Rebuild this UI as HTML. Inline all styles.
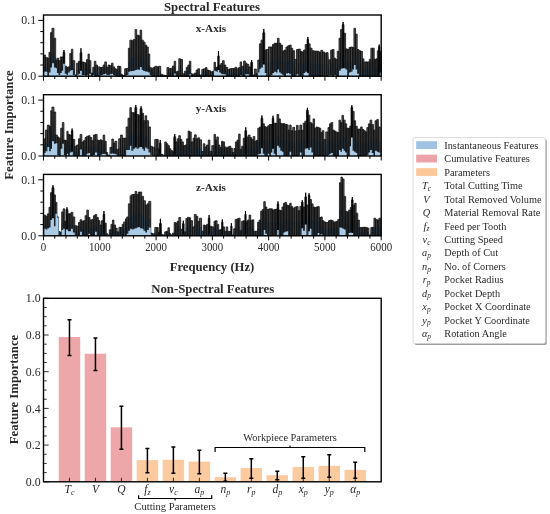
<!DOCTYPE html>
<html><head><meta charset="utf-8"><style>
html,body{margin:0;padding:0;background:#fff;width:550px;height:514px;overflow:hidden}
svg{display:block;will-change:transform}
text{font-family:"Liberation Serif",serif;fill:#2a2a2a}
</style></head><body>
<svg width="550" height="514" viewBox="0 0 550 514">
<path fill="#505050" d="M44.24 76.2L44.24 55.07L45.49 55.07L45.49 57.56L47.36 57.56L47.36 58.18L48.97 58.18L48.97 52.33L50.47 52.33L50.47 32.67L51.96 32.67L51.96 28.31L53.95 28.31L53.95 38.27L55.69 38.27L55.69 60.05L56.94 60.05L56.94 58.18L58.56 58.18L58.56 60.67L60.17 60.67L60.17 56.94L61.67 56.94L61.67 56.94L63.16 56.94L63.16 52.49L64.78 52.49L64.78 66.27L66.65 66.27L66.65 67.52L67.89 67.52L67.89 66.89L69.76 66.89L69.76 53.58L71.38 53.58L71.38 49.22L72.87 49.22L72.87 60.67L74.74 60.67L74.74 74.98L76.6 74.98L76.6 63.16L78.47 63.16L78.47 61.29L80.09 61.29L80.09 52.8L81.83 52.8L81.83 61.92L83.45 61.92L83.45 62.54L85.31 62.54L85.31 63.16L86.56 63.16L86.56 59.43L88.05 59.43L88.05 54.07L89.3 54.07L89.3 60.67L90.92 60.67L90.92 73.12L92.78 73.12L92.78 67.27L94.28 67.27L94.28 61.29L95.89 61.29L95.89 65.03L97.51 65.03L97.51 66.89L100 66.89L100 67.52L101.49 67.52L101.49 67.27L103.11 67.27L103.11 65.03L104.73 65.03L104.73 61.92L106.47 61.92L106.47 67.27L108.09 67.27L108.09 65.03L109.71 65.03L109.71 65.65L111.45 65.65L111.45 63.16L113.07 63.16L113.07 66.89L114.69 66.89L114.69 68.76L116.18 68.76L116.18 69.38L117.67 69.38L117.67 66.02L119.29 66.02L119.29 66.52L120.91 66.52L120.91 74.36L122.65 74.36L122.65 75.61L124.64 75.61L124.64 68.76L126.38 68.76L126.38 68.51L128.38 68.51L128.38 48.23L129.87 48.23L129.87 40.14L131.74 40.14L131.74 40.76L133.35 40.76L133.35 39.51L135.1 39.51L135.1 29.56L136.71 29.56L136.71 35.16L138.58 35.16L138.58 35.78L140.07 35.78L140.07 30.18L141.69 30.18L141.69 40.14L143.31 40.14L143.31 42L145.05 42L145.05 45.11L146.67 45.11L146.67 46.98L148.29 46.98L148.29 54.07L149.78 54.07L149.78 67.52L151.28 67.52L151.28 68.76L152.89 68.76L152.89 67.52L154.76 67.52L154.76 66.27L157 66.27L157 66.89L158.49 66.89L158.49 66.27L160.73 66.27L160.73 74.36L162.6 74.36L162.6 75.23L165.09 75.23L165.09 75.61L166.96 75.61L166.96 67.52L168.82 67.52L168.82 68.76L170.69 68.76L170.69 68.14L172.56 68.14L172.56 66.02L174.17 66.02L174.17 61.29L175.67 61.29L175.67 71.87L177.16 71.87L177.16 71.25L178.78 71.25L178.78 58.8L180.65 58.8L180.65 59.43L182.51 59.43L182.51 73.74L184.38 73.74L184.38 71.25L186.25 71.25L186.25 67.27L187.86 67.27L187.86 65.03L189.36 65.03L189.36 61.29L190.85 61.29L190.85 73.74L192.47 73.74L192.47 74.36L194.34 74.36L194.34 73.12L196.2 73.12L196.2 70L197.82 70L197.82 68.76L199.56 68.76L199.56 74.98L201.8 74.98L201.8 69.38L203.67 69.38L203.67 68.76L205.54 68.76L205.54 67.52L207.03 67.52L207.03 70L208.65 70L208.65 70.63L210.52 70.63L210.52 71.87L212.38 71.87L212.38 71.25L214 71.25L214 62.29L215.49 62.29L215.49 67.52L216.74 67.52L216.74 66.89L217.73 66.89L217.73 55.97L219.23 55.97L219.23 65.03L220.85 65.03L220.85 63.53L222.46 63.53L222.46 60.67L224.21 60.67L224.21 65.03L225.82 65.03L225.82 67.52L227.69 67.52L227.69 69.38L229.56 69.38L229.56 68.76L231.42 68.76L231.42 68.51L233.29 68.51L233.29 68.51L234.91 68.51L234.91 67.27L236.65 67.27L236.65 68.76L238.64 68.76L238.64 67.52L240.14 67.52L240.14 61.92L241.63 61.92L241.63 66.27L243.62 66.27L243.62 61.04L245.36 61.04L245.36 63.16L246.98 63.16L246.98 64.4L248.85 64.4L248.85 66.89L250.71 66.89L250.71 62.44L252.58 62.44L252.58 74.98L254.45 74.98L254.45 69.01L256.31 69.01L256.31 73.49L257.81 73.49L257.81 60.05L259.43 60.05L259.43 43.87L261.04 43.87L261.04 40.14L262.79 40.14L262.79 32.86L264.78 32.86L264.78 50.09L266.27 50.09L266.27 49.47L268.51 49.47L268.51 46.98L271 46.98L271 46.98L272.49 46.98L272.49 44.49L274.11 44.49L274.11 43.25L275.98 43.25L275.98 43.25L277.47 43.25L277.47 38.27L279.09 38.27L279.09 43.25L280.71 43.25L280.71 45.11L282.45 45.11L282.45 51.09L284.07 51.09L284.07 50.09L285.93 50.09L285.93 46.98L287.8 46.98L287.8 45.74L289.42 45.74L289.42 45.11L291.16 45.11L291.16 48.23L292.78 48.23L292.78 50.71L294.65 50.71L294.65 59.43L296.51 59.43L296.51 49.47L298.38 49.47L298.38 49.1L300.25 49.1L300.25 51.34L301.86 51.34L301.86 51.96L303.61 51.96L303.61 50.09L305.23 50.09L305.23 44.49L307.09 44.49L307.09 39.42L308.59 39.42L308.59 43.87L310.2 43.87L310.2 48.23L312.07 48.23L312.07 50.71L313.94 50.71L313.94 51.09L315.8 51.09L315.8 51.09L317.67 51.09L317.67 51.34L319.29 51.34L319.29 52.58L320.78 52.58L320.78 50.34L322.65 50.34L322.65 51.96L324.52 51.96L324.52 53.2L326.38 53.2L326.38 52.58L328 52.58L328.8 59.8L330.67 59.8L330.67 50.09L332.28 50.09L332.28 49.47L334.03 49.47L334.03 58.18L335.65 58.18L335.65 59.43L337.26 59.43L337.26 51.34L339.01 51.34L339.01 38.27L340.62 38.27L340.62 29.56L342.24 29.56L342.24 24.7L343.98 24.7L343.98 33.29L345.6 33.29L345.6 48.85L347.22 48.85L347.22 49.47L348.96 49.47L348.96 47.6L350.58 47.6L350.58 46.98L352.45 46.98L352.45 47.6L353.94 47.6L353.94 28.31L355.56 28.31L355.56 34.16L357.18 34.16L357.18 49.47L358.92 49.47L358.92 50.71L360.54 50.71L360.54 51.34L362.4 51.34L362.4 58.8L363.9 58.8L363.9 61.92L365.89 61.92L365.89 61.92L367.63 61.92L367.63 61.92L369.25 61.92L369.25 59.43L370.87 59.43L370.87 48.23L372.61 48.23L372.61 48.23L374.23 48.23L374.23 59.43L375.84 59.43L375.84 58.8L377.34 58.8L377.34 50.71L378.58 50.71L378.58 46.67L379.83 46.67L379.83 51.34L381.2 51.34L381.2 76.2Z"/><path fill="#34485a" d="M44.24 76.2L44.24 65.64L45.49 65.64L45.49 66.88L47.36 66.88L47.36 67.19L48.97 67.19L48.97 64.27L50.47 64.27L50.47 54.43L51.96 54.43L51.96 52.26L53.95 52.26L53.95 57.23L55.69 57.23L55.69 68.12L56.94 68.12L56.94 67.19L58.56 67.19L58.56 68.44L60.17 68.44L60.17 66.57L61.67 66.57L61.67 66.57L63.16 66.57L63.16 64.34L64.78 64.34L64.78 71.24L66.65 71.24L66.65 71.86L67.89 71.86L67.89 71.55L69.76 71.55L69.76 64.89L71.38 64.89L71.38 62.71L72.87 62.71L72.87 68.44L74.74 68.44L74.74 75.59L76.6 75.59L76.6 69.68L78.47 69.68L78.47 68.75L80.09 68.75L80.09 64.5L81.83 64.5L81.83 69.06L83.45 69.06L83.45 69.37L85.31 69.37L85.31 69.68L86.56 69.68L86.56 67.81L88.05 67.81L88.05 65.14L89.3 65.14L89.3 68.44L90.92 68.44L90.92 74.66L92.78 74.66L92.78 71.73L94.28 71.73L94.28 68.75L95.89 68.75L95.89 70.61L97.51 70.61L97.51 71.55L100 71.55L100 71.86L101.49 71.86L101.49 71.73L103.11 71.73L103.11 70.61L104.73 70.61L104.73 69.06L106.47 69.06L106.47 71.73L108.09 71.73L108.09 70.61L109.71 70.61L109.71 70.92L111.45 70.92L111.45 69.68L113.07 69.68L113.07 71.55L114.69 71.55L114.69 72.48L116.18 72.48L116.18 72.79L117.67 72.79L117.67 71.11L119.29 71.11L119.29 71.36L120.91 71.36L120.91 75.28L122.65 75.28L122.65 75.9L124.64 75.9L124.64 72.48L126.38 72.48L126.38 72.36L128.38 72.36L128.38 62.21L129.87 62.21L129.87 58.17L131.74 58.17L131.74 58.48L133.35 58.48L133.35 57.86L135.1 57.86L135.1 52.88L136.71 52.88L136.71 55.68L138.58 55.68L138.58 55.99L140.07 55.99L140.07 53.19L141.69 53.19L141.69 58.17L143.31 58.17L143.31 59.1L145.05 59.1L145.05 60.66L146.67 60.66L146.67 61.59L148.29 61.59L148.29 65.14L149.78 65.14L149.78 71.86L151.28 71.86L151.28 72.48L152.89 72.48L152.89 71.86L154.76 71.86L154.76 71.24L157 71.24L157 71.55L158.49 71.55L158.49 71.24L160.73 71.24L160.73 75.28L162.6 75.28L162.6 75.72L165.09 75.72L165.09 75.9L166.96 75.9L166.96 71.86L168.82 71.86L168.82 72.48L170.69 72.48L170.69 72.17L172.56 72.17L172.56 71.11L174.17 71.11L174.17 68.75L175.67 68.75L175.67 74.04L177.16 74.04L177.16 73.72L178.78 73.72L178.78 67.5L180.65 67.5L180.65 67.81L182.51 67.81L182.51 74.97L184.38 74.97L184.38 73.72L186.25 73.72L186.25 71.73L187.86 71.73L187.86 70.61L189.36 70.61L189.36 68.75L190.85 68.75L190.85 74.97L192.47 74.97L192.47 75.28L194.34 75.28L194.34 74.66L196.2 74.66L196.2 73.1L197.82 73.1L197.82 72.48L199.56 72.48L199.56 75.59L201.8 75.59L201.8 72.79L203.67 72.79L203.67 72.48L205.54 72.48L205.54 71.86L207.03 71.86L207.03 73.1L208.65 73.1L208.65 73.41L210.52 73.41L210.52 74.04L212.38 74.04L212.38 73.72L214 73.72L214 69.24L215.49 69.24L215.49 71.86L216.74 71.86L216.74 71.55L217.73 71.55L217.73 66.08L219.23 66.08L219.23 70.61L220.85 70.61L220.85 69.87L222.46 69.87L222.46 68.44L224.21 68.44L224.21 70.61L225.82 70.61L225.82 71.86L227.69 71.86L227.69 72.79L229.56 72.79L229.56 72.48L231.42 72.48L231.42 72.36L233.29 72.36L233.29 72.36L234.91 72.36L234.91 71.73L236.65 71.73L236.65 72.48L238.64 72.48L238.64 71.86L240.14 71.86L240.14 69.06L241.63 69.06L241.63 71.24L243.62 71.24L243.62 68.62L245.36 68.62L245.36 69.68L246.98 69.68L246.98 70.3L248.85 70.3L248.85 71.55L250.71 71.55L250.71 69.32L252.58 69.32L252.58 75.59L254.45 75.59L254.45 72.6L256.31 72.6L256.31 74.84L257.81 74.84L257.81 68.12L259.43 68.12L259.43 60.03L261.04 60.03L261.04 58.17L262.79 58.17L262.79 54.53L264.78 54.53L264.78 63.15L266.27 63.15L266.27 62.83L268.51 62.83L268.51 61.59L271 61.59L271 61.59L272.49 61.59L272.49 60.35L274.11 60.35L274.11 59.72L275.98 59.72L275.98 59.72L277.47 59.72L277.47 57.23L279.09 57.23L279.09 59.72L280.71 59.72L280.71 60.66L282.45 60.66L282.45 63.64L284.07 63.64L284.07 63.15L285.93 63.15L285.93 61.59L287.8 61.59L287.8 60.97L289.42 60.97L289.42 60.66L291.16 60.66L291.16 62.21L292.78 62.21L292.78 63.46L294.65 63.46L294.65 67.81L296.51 67.81L296.51 62.83L298.38 62.83L298.38 62.65L300.25 62.65L300.25 63.77L301.86 63.77L301.86 64.08L303.61 64.08L303.61 63.15L305.23 63.15L305.23 60.35L307.09 60.35L307.09 57.81L308.59 57.81L308.59 60.03L310.2 60.03L310.2 62.21L312.07 62.21L312.07 63.46L313.94 63.46L313.94 63.64L315.8 63.64L315.8 63.64L317.67 63.64L317.67 63.77L319.29 63.77L319.29 64.39L320.78 64.39L320.78 63.27L322.65 63.27L322.65 64.08L324.52 64.08L324.52 64.7L326.38 64.7L326.38 64.39L328 64.39L328.8 68L330.67 68L330.67 63.15L332.28 63.15L332.28 62.83L334.03 62.83L334.03 67.19L335.65 67.19L335.65 67.81L337.26 67.81L337.26 63.77L339.01 63.77L339.01 57.23L340.62 57.23L340.62 52.88L342.24 52.88L342.24 50.45L343.98 50.45L343.98 54.75L345.6 54.75L345.6 62.52L347.22 62.52L347.22 62.83L348.96 62.83L348.96 61.9L350.58 61.9L350.58 61.59L352.45 61.59L352.45 61.9L353.94 61.9L353.94 52.26L355.56 52.26L355.56 55.18L357.18 55.18L357.18 62.83L358.92 62.83L358.92 63.46L360.54 63.46L360.54 63.77L362.4 63.77L362.4 67.5L363.9 67.5L363.9 69.06L365.89 69.06L365.89 69.06L367.63 69.06L367.63 69.06L369.25 69.06L369.25 67.81L370.87 67.81L370.87 62.21L372.61 62.21L372.61 62.21L374.23 62.21L374.23 67.81L375.84 67.81L375.84 67.5L377.34 67.5L377.34 63.46L378.58 63.46L378.58 61.43L379.83 61.43L379.83 63.77L381.2 63.77L381.2 76.2Z"/><path fill="none" stroke="#111" stroke-width="0.8" d="M44.24 76.2V55.07H45.49V76.2M45.49 76.2V57.56H47.36V76.2M47.36 76.2V58.18H48.97V76.2M48.97 76.2V52.33H50.47V76.2M50.47 76.2V32.67H51.96V76.2M51.96 76.2V28.31H53.95V76.2M53.95 76.2V38.27H55.69V76.2M55.69 76.2V60.05H56.94V76.2M56.94 76.2V58.18H58.56V76.2M58.56 76.2V60.67H60.17V76.2M60.17 76.2V56.94H61.67V76.2M61.67 76.2V56.94H63.16V76.2M63.16 76.2V52.49H64.78V76.2M64.78 76.2V66.27H66.65V76.2M66.65 76.2V67.52H67.89V76.2M67.89 76.2V66.89H69.76V76.2M69.76 76.2V53.58H71.38V76.2M71.38 76.2V49.22H72.87V76.2M72.87 76.2V60.67H74.74V76.2M74.74 76.2V74.98H76.6V76.2M76.6 76.2V63.16H78.47V76.2M78.47 76.2V61.29H80.09V76.2M80.09 76.2V52.8H81.83V76.2M81.83 76.2V61.92H83.45V76.2M83.45 76.2V62.54H85.31V76.2M85.31 76.2V63.16H86.56V76.2M86.56 76.2V59.43H88.05V76.2M88.05 76.2V54.07H89.3V76.2M89.3 76.2V60.67H90.92V76.2M90.92 76.2V73.12H92.78V76.2M92.78 76.2V67.27H94.28V76.2M94.28 76.2V61.29H95.89V76.2M95.89 76.2V65.03H97.51V76.2M97.51 76.2V66.89H100V76.2M100 76.2V67.52H101.49V76.2M101.49 76.2V67.27H103.11V76.2M103.11 76.2V65.03H104.73V76.2M104.73 76.2V61.92H106.47V76.2M106.47 76.2V67.27H108.09V76.2M108.09 76.2V65.03H109.71V76.2M109.71 76.2V65.65H111.45V76.2M111.45 76.2V63.16H113.07V76.2M113.07 76.2V66.89H114.69V76.2M114.69 76.2V68.76H116.18V76.2M116.18 76.2V69.38H117.67V76.2M117.67 76.2V66.02H119.29V76.2M119.29 76.2V66.52H120.91V76.2M120.91 76.2V74.36H122.65V76.2M122.65 76.2V75.61H124.64V76.2M124.64 76.2V68.76H126.38V76.2M126.38 76.2V68.51H128.38V76.2M128.38 76.2V48.23H129.87V76.2M129.87 76.2V40.14H131.74V76.2M131.74 76.2V40.76H133.35V76.2M133.35 76.2V39.51H135.1V76.2M135.1 76.2V29.56H136.71V76.2M136.71 76.2V35.16H138.58V76.2M138.58 76.2V35.78H140.07V76.2M140.07 76.2V30.18H141.69V76.2M141.69 76.2V40.14H143.31V76.2M143.31 76.2V42H145.05V76.2M145.05 76.2V45.11H146.67V76.2M146.67 76.2V46.98H148.29V76.2M148.29 76.2V54.07H149.78V76.2M149.78 76.2V67.52H151.28V76.2M151.28 76.2V68.76H152.89V76.2M152.89 76.2V67.52H154.76V76.2M154.76 76.2V66.27H157V76.2M157 76.2V66.89H158.49V76.2M158.49 76.2V66.27H160.73V76.2M160.73 76.2V74.36H162.6V76.2M162.6 76.2V75.23H165.09V76.2M165.09 76.2V75.61H166.96V76.2M166.96 76.2V67.52H168.82V76.2M168.82 76.2V68.76H170.69V76.2M170.69 76.2V68.14H172.56V76.2M172.56 76.2V66.02H174.17V76.2M174.17 76.2V61.29H175.67V76.2M175.67 76.2V71.87H177.16V76.2M177.16 76.2V71.25H178.78V76.2M178.78 76.2V58.8H180.65V76.2M180.65 76.2V59.43H182.51V76.2M182.51 76.2V73.74H184.38V76.2M184.38 76.2V71.25H186.25V76.2M186.25 76.2V67.27H187.86V76.2M187.86 76.2V65.03H189.36V76.2M189.36 76.2V61.29H190.85V76.2M190.85 76.2V73.74H192.47V76.2M192.47 76.2V74.36H194.34V76.2M194.34 76.2V73.12H196.2V76.2M196.2 76.2V70H197.82V76.2M197.82 76.2V68.76H199.56V76.2M199.56 76.2V74.98H201.8V76.2M201.8 76.2V69.38H203.67V76.2M203.67 76.2V68.76H205.54V76.2M205.54 76.2V67.52H207.03V76.2M207.03 76.2V70H208.65V76.2M208.65 76.2V70.63H210.52V76.2M210.52 76.2V71.87H212.38V76.2M212.38 76.2V71.25H214V76.2M214 76.2V62.29H215.49V76.2M215.49 76.2V67.52H216.74V76.2M216.74 76.2V66.89H217.73V76.2M217.73 76.2V55.97H219.23V76.2M219.23 76.2V65.03H220.85V76.2M220.85 76.2V63.53H222.46V76.2M222.46 76.2V60.67H224.21V76.2M224.21 76.2V65.03H225.82V76.2M225.82 76.2V67.52H227.69V76.2M227.69 76.2V69.38H229.56V76.2M229.56 76.2V68.76H231.42V76.2M231.42 76.2V68.51H233.29V76.2M233.29 76.2V68.51H234.91V76.2M234.91 76.2V67.27H236.65V76.2M236.65 76.2V68.76H238.64V76.2M238.64 76.2V67.52H240.14V76.2M240.14 76.2V61.92H241.63V76.2M241.63 76.2V66.27H243.62V76.2M243.62 76.2V61.04H245.36V76.2M245.36 76.2V63.16H246.98V76.2M246.98 76.2V64.4H248.85V76.2M248.85 76.2V66.89H250.71V76.2M250.71 76.2V62.44H252.58V76.2M252.58 76.2V74.98H254.45V76.2M254.45 76.2V69.01H256.31V76.2M256.31 76.2V73.49H257.81V76.2M257.81 76.2V60.05H259.43V76.2M259.43 76.2V43.87H261.04V76.2M261.04 76.2V40.14H262.79V76.2M262.79 76.2V32.86H264.78V76.2M264.78 76.2V50.09H266.27V76.2M266.27 76.2V49.47H268.51V76.2M268.51 76.2V46.98H271V76.2M271 76.2V46.98H272.49V76.2M272.49 76.2V44.49H274.11V76.2M274.11 76.2V43.25H275.98V76.2M275.98 76.2V43.25H277.47V76.2M277.47 76.2V38.27H279.09V76.2M279.09 76.2V43.25H280.71V76.2M280.71 76.2V45.11H282.45V76.2M282.45 76.2V51.09H284.07V76.2M284.07 76.2V50.09H285.93V76.2M285.93 76.2V46.98H287.8V76.2M287.8 76.2V45.74H289.42V76.2M289.42 76.2V45.11H291.16V76.2M291.16 76.2V48.23H292.78V76.2M292.78 76.2V50.71H294.65V76.2M294.65 76.2V59.43H296.51V76.2M296.51 76.2V49.47H298.38V76.2M298.38 76.2V49.1H300.25V76.2M300.25 76.2V51.34H301.86V76.2M301.86 76.2V51.96H303.61V76.2M303.61 76.2V50.09H305.23V76.2M305.23 76.2V44.49H307.09V76.2M307.09 76.2V39.42H308.59V76.2M308.59 76.2V43.87H310.2V76.2M310.2 76.2V48.23H312.07V76.2M312.07 76.2V50.71H313.94V76.2M313.94 76.2V51.09H315.8V76.2M315.8 76.2V51.09H317.67V76.2M317.67 76.2V51.34H319.29V76.2M319.29 76.2V52.58H320.78V76.2M320.78 76.2V50.34H322.65V76.2M322.65 76.2V51.96H324.52V76.2M324.52 76.2V53.2H326.38V76.2M326.38 76.2V52.58H328V76.2M328.8 76.2V59.8H330.67V76.2M330.67 76.2V50.09H332.28V76.2M332.28 76.2V49.47H334.03V76.2M334.03 76.2V58.18H335.65V76.2M335.65 76.2V59.43H337.26V76.2M337.26 76.2V51.34H339.01V76.2M339.01 76.2V38.27H340.62V76.2M340.62 76.2V29.56H342.24V76.2M342.24 76.2V24.7H343.98V76.2M343.98 76.2V33.29H345.6V76.2M345.6 76.2V48.85H347.22V76.2M347.22 76.2V49.47H348.96V76.2M348.96 76.2V47.6H350.58V76.2M350.58 76.2V46.98H352.45V76.2M352.45 76.2V47.6H353.94V76.2M353.94 76.2V28.31H355.56V76.2M355.56 76.2V34.16H357.18V76.2M357.18 76.2V49.47H358.92V76.2M358.92 76.2V50.71H360.54V76.2M360.54 76.2V51.34H362.4V76.2M362.4 76.2V58.8H363.9V76.2M363.9 76.2V61.92H365.89V76.2M365.89 76.2V61.92H367.63V76.2M367.63 76.2V61.92H369.25V76.2M369.25 76.2V59.43H370.87V76.2M370.87 76.2V48.23H372.61V76.2M372.61 76.2V48.23H374.23V76.2M374.23 76.2V59.43H375.84V76.2M375.84 76.2V58.8H377.34V76.2M377.34 76.2V50.71H378.58V76.2M378.58 76.2V46.67H379.83V76.2M379.83 76.2V51.34H381.2V76.2M63.97 76.2V50.09M80.96 76.2V48.23M218.48 76.2V51.09M251.65 76.2V60.05M263.78 76.2V28.93M307.84 76.2V37.02M343.11 76.2V22.09M379.2 76.2V44.49"/><path fill="none" stroke="#000" stroke-width="1.1" d="M63.97 74.2V50.09M80.96 74.2V48.23M218.48 74.2V51.09M251.65 74.2V60.05M263.78 74.2V28.93M307.84 74.2V37.02M343.11 74.2V22.09M379.2 74.2V44.49"/><path fill="#a9cbe6" d="M44.24 76.2L44.24 71.5L45.49 71.5L45.49 71.87L47.36 71.87L47.36 76.2L48.97 76.2L48.97 72.49L50.47 72.49L50.47 67.52L51.96 67.52L51.96 63.16L53.95 63.16L53.95 67.52L55.69 67.52L55.69 68.14L56.94 68.14L56.94 73.12L58.56 73.12L58.56 74.98L60.17 74.98L60.17 73.12L61.67 73.12L61.67 70.63L63.16 70.63L63.16 63.78L64.78 63.78L64.78 73.74L66.65 73.74L66.65 74.98L67.89 74.98L67.89 72.49L69.76 72.49L69.76 70.63L71.38 70.63L71.38 70L72.87 70L72.87 74.98L74.74 74.98L74.74 76.2L76.6 76.2L76.6 74.98L78.47 74.98L78.47 73.74L80.09 73.74L80.09 70.63L81.83 70.63L81.83 74.98L83.45 74.98L83.45 74.98L85.31 74.98L85.31 76.2L86.56 76.2L86.56 74.98L88.05 74.98L88.05 76.2L89.3 76.2L89.3 73.74L90.92 73.74L90.92 76.2L92.78 76.2L92.78 74.98L94.28 74.98L94.28 76.2L95.89 76.2L95.89 76.2L97.51 76.2L97.51 76.2L100 76.2L100 75.61L101.49 75.61L101.49 74.98L103.11 74.98L103.11 74.36L104.73 74.36L104.73 73.74L106.47 73.74L106.47 74.98L108.09 74.98L108.09 74.98L109.71 74.98L109.71 74.36L111.45 74.36L111.45 73.74L113.07 73.74L113.07 74.98L114.69 74.98L114.69 76.2L116.18 76.2L116.18 76.2L117.67 76.2L117.67 76.2L119.29 76.2L119.29 76.2L120.91 76.2L120.91 76.2L122.65 76.2L122.65 76.2L124.64 76.2L124.64 76.2L126.38 76.2L126.38 74.98L128.38 74.98L128.38 71.87L129.87 71.87L129.87 71.25L131.74 71.25L131.74 71L133.35 71L133.35 70.63L135.1 70.63L135.1 70L136.71 70L136.71 69.38L138.58 69.38L138.58 69.76L140.07 69.76L140.07 66.89L141.69 66.89L141.69 70L143.31 70L143.31 71L145.05 71L145.05 71.5L146.67 71.5L146.67 71.87L148.29 71.87L148.29 72.49L149.78 72.49L149.78 74.98L151.28 74.98L151.28 76.2L152.89 76.2L152.89 76.2L154.76 76.2L154.76 76.2L157 76.2L157 76.2L158.49 76.2L158.49 76.2L160.73 76.2L160.73 76.2L162.6 76.2L162.6 76.2L165.09 76.2L165.09 76.2L166.96 76.2L166.96 76.2L168.82 76.2L168.82 76.2L170.69 76.2L170.69 76.2L172.56 76.2L172.56 76.2L174.17 76.2L174.17 73.49L175.67 73.49L175.67 76.2L177.16 76.2L177.16 76.2L178.78 76.2L178.78 76.2L180.65 76.2L180.65 76.2L182.51 76.2L182.51 76.2L184.38 76.2L184.38 76.2L186.25 76.2L186.25 76.2L187.86 76.2L187.86 76.2L189.36 76.2L189.36 74.36L190.85 74.36L190.85 76.2L192.47 76.2L192.47 76.2L194.34 76.2L194.34 76.2L196.2 76.2L196.2 76.2L197.82 76.2L197.82 76.2L199.56 76.2L199.56 76.2L201.8 76.2L201.8 76.2L203.67 76.2L203.67 76.2L205.54 76.2L205.54 76.2L207.03 76.2L207.03 76.2L208.65 76.2L208.65 76.2L210.52 76.2L210.52 76.2L212.38 76.2L212.38 76.2L214 76.2L214 70.63L215.49 70.63L215.49 71.25L216.74 71.25L216.74 71.87L217.73 71.87L217.73 70L219.23 70L219.23 72.49L220.85 72.49L220.85 73.74L222.46 73.74L222.46 74.36L224.21 74.36L224.21 74.36L225.82 74.36L225.82 76.2L227.69 76.2L227.69 76.2L229.56 76.2L229.56 76.2L231.42 76.2L231.42 76.2L233.29 76.2L233.29 76.2L234.91 76.2L234.91 76.2L236.65 76.2L236.65 76.2L238.64 76.2L238.64 76.2L240.14 76.2L240.14 74.98L241.63 74.98L241.63 76.2L243.62 76.2L243.62 76.2L245.36 76.2L245.36 74.36L246.98 74.36L246.98 74.36L248.85 74.36L248.85 76.2L250.71 76.2L250.71 76.2L252.58 76.2L252.58 76.2L254.45 76.2L254.45 76.2L256.31 76.2L256.31 76.2L257.81 76.2L257.81 72.49L259.43 72.49L259.43 68.76L261.04 68.76L261.04 67.52L262.79 67.52L262.79 64.4L264.78 64.4L264.78 73.12L266.27 73.12L266.27 76.2L268.51 76.2L268.51 76.2L271 76.2L271 74.98L272.49 74.98L272.49 73.12L274.11 73.12L274.11 71.87L275.98 71.87L275.98 72.49L277.47 72.49L277.47 69.38L279.09 69.38L279.09 72.49L280.71 72.49L280.71 73.74L282.45 73.74L282.45 74.98L284.07 74.98L284.07 76.2L285.93 76.2L285.93 73.49L287.8 73.49L287.8 73.12L289.42 73.12L289.42 74.36L291.16 74.36L291.16 76.2L292.78 76.2L292.78 76.2L294.65 76.2L294.65 76.2L296.51 76.2L296.51 74.36L298.38 74.36L298.38 76.2L300.25 76.2L300.25 76.2L301.86 76.2L301.86 76.2L303.61 76.2L303.61 73.12L305.23 73.12L305.23 71.87L307.09 71.87L307.09 73.12L308.59 73.12L308.59 76.2L310.2 76.2L310.2 76.2L312.07 76.2L312.07 76.2L313.94 76.2L313.94 76.2L315.8 76.2L315.8 76.2L317.67 76.2L317.67 76.2L319.29 76.2L319.29 76.2L320.78 76.2L320.78 76.2L322.65 76.2L322.65 76.2L324.52 76.2L324.52 76.2L326.38 76.2L326.38 76.2L328 76.2L328.8 75.61L330.67 75.61L330.67 75.61L332.28 75.61L332.28 76.2L334.03 76.2L334.03 74.98L335.65 74.98L335.65 76.2L337.26 76.2L337.26 76.2L339.01 76.2L339.01 70.63L340.62 70.63L340.62 68.76L342.24 68.76L342.24 68.14L343.98 68.14L343.98 68.14L345.6 68.14L345.6 69.38L347.22 69.38L347.22 76.2L348.96 76.2L348.96 72.49L350.58 72.49L350.58 71.87L352.45 71.87L352.45 69.38L353.94 69.38L353.94 65.03L355.56 65.03L355.56 69.38L357.18 69.38L357.18 73.74L358.92 73.74L358.92 76.2L360.54 76.2L360.54 76.2L362.4 76.2L362.4 76.2L363.9 76.2L363.9 76.2L365.89 76.2L365.89 76.2L367.63 76.2L367.63 76.2L369.25 76.2L369.25 76.2L370.87 76.2L370.87 76.2L372.61 76.2L372.61 76.2L374.23 76.2L374.23 76.2L375.84 76.2L375.84 76.2L377.34 76.2L377.34 76.2L378.58 76.2L378.58 76.2L379.83 76.2L379.83 72.49L381.2 72.49L381.2 76.2Z"/><rect x="43.5" y="15.0" width="337.7" height="61.2" fill="none" stroke="#000" stroke-width="1.4"/><path fill="none" stroke="#000" stroke-width="1" d="M43.5 76.2H38.3M43.5 65.04H40.3M43.5 53.88H40.3M43.5 42.72H40.3M43.5 31.56H40.3M43.5 20.4H38.3M43.5 76.2V80.7M54.76 76.2V79M66.01 76.2V79M77.27 76.2V79M88.53 76.2V79M99.78 76.2V80.7M111.04 76.2V79M122.3 76.2V79M133.55 76.2V79M144.81 76.2V79M156.07 76.2V80.7M167.32 76.2V79M178.58 76.2V79M189.84 76.2V79M201.09 76.2V79M212.35 76.2V80.7M223.61 76.2V79M234.86 76.2V79M246.12 76.2V79M257.38 76.2V79M268.63 76.2V80.7M279.89 76.2V79M291.15 76.2V79M302.4 76.2V79M313.66 76.2V79M324.92 76.2V80.7M336.17 76.2V79M347.43 76.2V79M358.69 76.2V79M369.94 76.2V79M381.2 76.2V80.7"/><text transform="translate(36.2 80.2) scale(1.1 1.12)" text-anchor="end" font-size="10.8">0.0</text><text transform="translate(36.2 24.4) scale(1.1 1.12)" text-anchor="end" font-size="10.8">0.1</text><text x="211" y="32" text-anchor="middle" font-size="11.2" font-weight="bold">x-Axis</text><path fill="#505050" d="M44.24 156L44.24 138.8L45.49 138.8L45.49 130.09L47.36 130.09L47.36 125.11L49.22 125.11L49.22 126.36L50.72 126.36L50.72 110.8L51.96 110.8L51.96 107.07L53.95 107.07L53.95 112.05L55.69 112.05L55.69 135.07L57.31 135.07L57.31 136.94L58.93 136.94L58.93 138.18L60.67 138.18L60.67 128.23L62.29 128.23L62.29 122.62L63.91 122.62L63.91 140.05L65.4 140.05L65.4 140.67L66.9 140.67L66.9 131.34L68.14 131.34L68.14 134.45L69.76 134.45L69.76 135.07L71.38 135.07L71.38 130.86L72.87 130.86L72.87 139.43L74.74 139.43L74.74 146.27L76.6 146.27L76.6 145.03L78.47 145.03L78.47 138.8L80.09 138.8L80.09 134.45L81.83 134.45L81.83 141.92L83.45 141.92L83.45 140.67L85.07 140.67L85.07 137.56L86.56 137.56L86.56 136.31L88.43 136.31L88.43 135.69L90.04 135.69L90.04 137.56L91.79 137.56L91.79 140.67L93.4 140.67L93.4 135.07L95.02 135.07L95.02 134.45L97.14 134.45L97.14 140.05L98.76 140.05L98.76 140.67L100 140.67L100 139.8L101.49 139.8L101.49 140.67L103.11 140.67L103.11 135.07L104.73 135.07L104.73 141.29L106.22 141.29L106.22 152.49L107.72 152.49L107.72 155.23L109.96 155.23L109.96 147.27L111.82 147.27L111.82 139.05L113.44 139.05L113.44 143.16L114.93 143.16L114.93 141.29L116.8 141.29L116.8 149.38L118.67 149.38L118.67 138.8L120.54 138.8L120.54 135.07L122.4 135.07L122.4 138.18L124.27 138.18L124.27 138.18L126.14 138.18L126.14 126.98L128 126.98L128 118.27L129.87 118.27L129.87 107.69L131.36 107.69L131.36 112.67L133.35 112.67L133.35 112.67L134.85 112.67L134.85 107.65L136.71 107.65L136.71 114.54L138.58 114.54L138.58 115.16L140.07 115.16L140.07 108.68L142.07 108.68L142.07 113.29L143.56 113.29L143.56 120.76L145.05 120.76L145.05 115.78L146.67 115.78L146.67 120.76L148.54 120.76L148.54 126.98L150.4 126.98L150.4 146.27L152.27 146.27L152.27 147.27L154.76 147.27L154.76 139.43L157 139.43L157 139.43L158.24 139.43L158.24 148.76L159.49 148.76L159.49 143.1L160.98 143.1L160.98 154.36L162.97 154.36L162.97 155.23L164.72 155.23L164.72 141.92L166.33 141.92L166.33 143.78L167.95 143.78L167.95 145.65L169.45 145.65L169.45 148.76L170.94 148.76L170.94 150.63L172.56 150.63L172.56 151.25L173.8 151.25L173.8 136.82L175.67 136.82L175.67 141.92L177.16 141.92L177.16 138.8L178.78 138.8L178.78 135.69L180.4 135.69L180.4 139.43L181.89 139.43L181.89 141.92L183.38 141.92L183.38 145.65L185 145.65L185 145.03L186.62 145.03L186.62 138.8L188.11 138.8L188.11 131.09L189.61 131.09L189.61 131.96L191.23 131.96L191.23 141.92L193.09 141.92L193.09 138.18L194.59 138.18L194.59 134.82L196.2 134.82L196.2 138.8L197.82 138.8L197.82 137.81L199.56 137.81L199.56 139.8L201.56 139.8L201.56 151.5L203.3 151.5L203.3 143.78L204.92 143.78L204.92 146.89L206.53 146.89L206.53 145.03L208.28 145.03L208.28 140.05L209.89 140.05L209.89 151.25L211.76 151.25L211.76 145.65L214 145.65L214 134.45L215.49 134.45L215.49 140.05L216.74 140.05L216.74 136.94L218.36 136.94L218.36 145.03L219.97 145.03L219.97 147.52L221.47 147.52L221.47 141.29L222.96 141.29L222.96 141.92L224.58 141.92L224.58 146.89L226.2 146.89L226.2 148.14L227.69 148.14L227.69 146.89L229.18 146.89L229.18 146.27L230.8 146.27L230.8 148.14L232.42 148.14L232.42 152.49L233.91 152.49L233.91 148.51L235.41 148.51L235.41 141.92L237.02 141.92L237.02 140.05L238.64 140.05L238.64 134.07L240.14 134.07L240.14 149.38L241.63 149.38L241.63 146.27L243.25 146.27L243.25 138.18L244.86 138.18L244.86 130.71L246.61 130.71L246.61 136.94L248.23 136.94L248.23 135.07L250.09 135.07L250.09 137.56L251.59 137.56L251.59 139.43L253.2 139.43L253.2 136.56L254.82 136.56L254.82 141.29L256.31 141.29L256.31 140.3L257.81 140.3L257.81 128.23L259.43 128.23L259.43 126.98L261.04 126.98L261.04 118.37L262.79 118.37L262.79 123.87L264.4 123.87L264.4 126.61L266.02 126.61L266.02 127.35L267.76 127.35L267.76 125.74L269.38 125.74L269.38 124.49L271 124.49L271 124.49L272.24 124.49L272.24 118.39L273.74 118.39L273.74 123.25L275.36 123.25L275.36 123.25L276.97 123.25L276.97 114.54L278.72 114.54L278.72 118.89L280.33 118.89L280.33 123.25L281.95 123.25L281.95 123.87L283.45 123.87L283.45 123.62L284.94 123.62L284.94 124.49L286.56 124.49L286.56 124.86L288.17 124.86L288.17 130.09L289.67 130.09L289.67 125.11L291.16 125.11L291.16 130.71L292.78 130.71L292.78 127.35L294.65 127.35L294.65 131.09L296.51 131.09L296.51 125.36L298.13 125.36L298.13 130.34L299.87 130.34L299.87 125.11L301.49 125.11L301.49 130.34L303.11 130.34L303.11 123.25L304.85 123.25L304.85 121.13L306.47 121.13L306.47 110.3L308.34 110.3L308.34 115.16L309.83 115.16L309.83 122.62L311.45 122.62L311.45 123.87L313.07 123.87L313.07 118.89L314.56 118.89L314.56 128.23L316.05 128.23L316.05 126.98L317.67 126.98L317.67 127.6L319.29 127.6L319.29 128.23L320.78 128.23L320.78 132.58L322.28 132.58L322.28 130.71L323.89 130.71L323.89 139.43L325.76 139.43L325.76 131.96L328 131.96L328 127.6L329.49 127.6L329.49 123.87L331.11 123.87L331.11 122.38L332.73 122.38L332.73 130.09L334.22 130.09L334.22 131.09L335.72 131.09L335.72 131.96L337.33 131.96L337.33 132.58L338.95 132.58L338.95 120.14L340.45 120.14L340.45 122.62L341.94 122.62L341.94 115.41L343.56 115.41L343.56 120.14L345.17 120.14L345.17 123.87L346.67 123.87L346.67 128.23L348.16 128.23L348.16 128.23L349.78 128.23L349.78 126.11L351.02 126.11L351.02 107.38L352.64 107.38L352.64 111.42L354.14 111.42L354.14 120.76L355.63 120.76L355.63 126.36L357.25 126.36L357.25 129.1L358.86 129.1L358.86 129.1L360.61 129.1L360.61 126.98L362.23 126.98L362.23 129.47L363.84 129.47L363.84 130.71L365.34 130.71L365.34 131.96L366.83 131.96L366.83 127.6L368.45 127.6L368.45 123.87L370.07 123.87L370.07 120.14L371.81 120.14L371.81 124.49L373.43 124.49L373.43 130.09L375.04 130.09L375.04 120.76L376.79 120.76L376.79 119.51L378.4 119.51L378.4 126.98L380.27 126.98L380.27 156Z"/><path fill="#34485a" d="M44.24 156L44.24 147.4L45.49 147.4L45.49 143.05L47.36 143.05L47.36 140.56L49.22 140.56L49.22 141.18L50.72 141.18L50.72 133.4L51.96 133.4L51.96 131.53L53.95 131.53L53.95 134.02L55.69 134.02L55.69 145.54L57.31 145.54L57.31 146.47L58.93 146.47L58.93 147.09L60.67 147.09L60.67 142.11L62.29 142.11L62.29 139.31L63.91 139.31L63.91 148.02L65.4 148.02L65.4 148.34L66.9 148.34L66.9 143.67L68.14 143.67L68.14 145.22L69.76 145.22L69.76 145.54L71.38 145.54L71.38 143.43L72.87 143.43L72.87 147.71L74.74 147.71L74.74 151.14L76.6 151.14L76.6 150.51L78.47 150.51L78.47 147.4L80.09 147.4L80.09 145.22L81.83 145.22L81.83 148.96L83.45 148.96L83.45 148.34L85.07 148.34L85.07 146.78L86.56 146.78L86.56 146.16L88.43 146.16L88.43 145.85L90.04 145.85L90.04 146.78L91.79 146.78L91.79 148.34L93.4 148.34L93.4 145.54L95.02 145.54L95.02 145.22L97.14 145.22L97.14 148.02L98.76 148.02L98.76 148.34L100 148.34L100 147.9L101.49 147.9L101.49 148.34L103.11 148.34L103.11 145.54L104.73 145.54L104.73 148.65L106.22 148.65L106.22 154.25L107.72 154.25L107.72 155.62L109.96 155.62L109.96 151.63L111.82 151.63L111.82 147.53L113.44 147.53L113.44 149.58L114.93 149.58L114.93 148.65L116.8 148.65L116.8 152.69L118.67 152.69L118.67 147.4L120.54 147.4L120.54 145.54L122.4 145.54L122.4 147.09L124.27 147.09L124.27 147.09L126.14 147.09L126.14 141.49L128 141.49L128 137.13L129.87 137.13L129.87 131.85L131.36 131.85L131.36 134.33L133.35 134.33L133.35 134.33L134.85 134.33L134.85 131.83L136.71 131.83L136.71 135.27L138.58 135.27L138.58 135.58L140.07 135.58L140.07 132.34L142.07 132.34L142.07 134.65L143.56 134.65L143.56 138.38L145.05 138.38L145.05 135.89L146.67 135.89L146.67 138.38L148.54 138.38L148.54 141.49L150.4 141.49L150.4 151.14L152.27 151.14L152.27 151.63L154.76 151.63L154.76 147.71L157 147.71L157 147.71L158.24 147.71L158.24 152.38L159.49 152.38L159.49 149.55L160.98 149.55L160.98 155.18L162.97 155.18L162.97 155.62L164.72 155.62L164.72 148.96L166.33 148.96L166.33 149.89L167.95 149.89L167.95 150.82L169.45 150.82L169.45 152.38L170.94 152.38L170.94 153.31L172.56 153.31L172.56 153.62L173.8 153.62L173.8 146.41L175.67 146.41L175.67 148.96L177.16 148.96L177.16 147.4L178.78 147.4L178.78 145.85L180.4 145.85L180.4 147.71L181.89 147.71L181.89 148.96L183.38 148.96L183.38 150.82L185 150.82L185 150.51L186.62 150.51L186.62 147.4L188.11 147.4L188.11 143.54L189.61 143.54L189.61 143.98L191.23 143.98L191.23 148.96L193.09 148.96L193.09 147.09L194.59 147.09L194.59 145.41L196.2 145.41L196.2 147.4L197.82 147.4L197.82 146.9L199.56 146.9L199.56 147.9L201.56 147.9L201.56 153.75L203.3 153.75L203.3 149.89L204.92 149.89L204.92 151.45L206.53 151.45L206.53 150.51L208.28 150.51L208.28 148.02L209.89 148.02L209.89 153.62L211.76 153.62L211.76 150.82L214 150.82L214 145.22L215.49 145.22L215.49 148.02L216.74 148.02L216.74 146.47L218.36 146.47L218.36 150.51L219.97 150.51L219.97 151.76L221.47 151.76L221.47 148.65L222.96 148.65L222.96 148.96L224.58 148.96L224.58 151.45L226.2 151.45L226.2 152.07L227.69 152.07L227.69 151.45L229.18 151.45L229.18 151.14L230.8 151.14L230.8 152.07L232.42 152.07L232.42 154.25L233.91 154.25L233.91 152.26L235.41 152.26L235.41 148.96L237.02 148.96L237.02 148.02L238.64 148.02L238.64 145.04L240.14 145.04L240.14 152.69L241.63 152.69L241.63 151.14L243.25 151.14L243.25 147.09L244.86 147.09L244.86 143.35L246.61 143.35L246.61 146.47L248.23 146.47L248.23 145.54L250.09 145.54L250.09 146.78L251.59 146.78L251.59 147.71L253.2 147.71L253.2 146.28L254.82 146.28L254.82 148.65L256.31 148.65L256.31 148.15L257.81 148.15L257.81 142.11L259.43 142.11L259.43 141.49L261.04 141.49L261.04 137.18L262.79 137.18L262.79 139.93L264.4 139.93L264.4 141.3L266.02 141.3L266.02 141.68L267.76 141.68L267.76 140.87L269.38 140.87L269.38 140.25L271 140.25L271 140.25L272.24 140.25L272.24 137.2L273.74 137.2L273.74 139.62L275.36 139.62L275.36 139.62L276.97 139.62L276.97 135.27L278.72 135.27L278.72 137.45L280.33 137.45L280.33 139.62L281.95 139.62L281.95 139.93L283.45 139.93L283.45 139.81L284.94 139.81L284.94 140.25L286.56 140.25L286.56 140.43L288.17 140.43L288.17 143.05L289.67 143.05L289.67 140.56L291.16 140.56L291.16 143.36L292.78 143.36L292.78 141.68L294.65 141.68L294.65 143.54L296.51 143.54L296.51 140.68L298.13 140.68L298.13 143.17L299.87 143.17L299.87 140.56L301.49 140.56L301.49 143.17L303.11 143.17L303.11 139.62L304.85 139.62L304.85 138.57L306.47 138.57L306.47 133.15L308.34 133.15L308.34 135.58L309.83 135.58L309.83 139.31L311.45 139.31L311.45 139.93L313.07 139.93L313.07 137.45L314.56 137.45L314.56 142.11L316.05 142.11L316.05 141.49L317.67 141.49L317.67 141.8L319.29 141.8L319.29 142.11L320.78 142.11L320.78 144.29L322.28 144.29L322.28 143.36L323.89 143.36L323.89 147.71L325.76 147.71L325.76 143.98L328 143.98L328 141.8L329.49 141.8L329.49 139.93L331.11 139.93L331.11 139.19L332.73 139.19L332.73 143.05L334.22 143.05L334.22 143.54L335.72 143.54L335.72 143.98L337.33 143.98L337.33 144.29L338.95 144.29L338.95 138.07L340.45 138.07L340.45 139.31L341.94 139.31L341.94 135.7L343.56 135.7L343.56 138.07L345.17 138.07L345.17 139.93L346.67 139.93L346.67 142.11L348.16 142.11L348.16 142.11L349.78 142.11L349.78 141.05L351.02 141.05L351.02 131.69L352.64 131.69L352.64 133.71L354.14 133.71L354.14 138.38L355.63 138.38L355.63 141.18L357.25 141.18L357.25 142.55L358.86 142.55L358.86 142.55L360.61 142.55L360.61 141.49L362.23 141.49L362.23 142.73L363.84 142.73L363.84 143.36L365.34 143.36L365.34 143.98L366.83 143.98L366.83 141.8L368.45 141.8L368.45 139.93L370.07 139.93L370.07 138.07L371.81 138.07L371.81 140.25L373.43 140.25L373.43 143.05L375.04 143.05L375.04 138.38L376.79 138.38L376.79 137.76L378.4 137.76L378.4 141.49L380.27 141.49L380.27 156Z"/><path fill="none" stroke="#111" stroke-width="0.8" d="M44.24 156V138.8H45.49V156M45.49 156V130.09H47.36V156M47.36 156V125.11H49.22V156M49.22 156V126.36H50.72V156M50.72 156V110.8H51.96V156M51.96 156V107.07H53.95V156M53.95 156V112.05H55.69V156M55.69 156V135.07H57.31V156M57.31 156V136.94H58.93V156M58.93 156V138.18H60.67V156M60.67 156V128.23H62.29V156M62.29 156V122.62H63.91V156M63.91 156V140.05H65.4V156M65.4 156V140.67H66.9V156M66.9 156V131.34H68.14V156M68.14 156V134.45H69.76V156M69.76 156V135.07H71.38V156M71.38 156V130.86H72.87V156M72.87 156V139.43H74.74V156M74.74 156V146.27H76.6V156M76.6 156V145.03H78.47V156M78.47 156V138.8H80.09V156M80.09 156V134.45H81.83V156M81.83 156V141.92H83.45V156M83.45 156V140.67H85.07V156M85.07 156V137.56H86.56V156M86.56 156V136.31H88.43V156M88.43 156V135.69H90.04V156M90.04 156V137.56H91.79V156M91.79 156V140.67H93.4V156M93.4 156V135.07H95.02V156M95.02 156V134.45H97.14V156M97.14 156V140.05H98.76V156M98.76 156V140.67H100V156M100 156V139.8H101.49V156M101.49 156V140.67H103.11V156M103.11 156V135.07H104.73V156M104.73 156V141.29H106.22V156M106.22 156V152.49H107.72V156M107.72 156V155.23H109.96V156M109.96 156V147.27H111.82V156M111.82 156V139.05H113.44V156M113.44 156V143.16H114.93V156M114.93 156V141.29H116.8V156M116.8 156V149.38H118.67V156M118.67 156V138.8H120.54V156M120.54 156V135.07H122.4V156M122.4 156V138.18H124.27V156M124.27 156V138.18H126.14V156M126.14 156V126.98H128V156M128 156V118.27H129.87V156M129.87 156V107.69H131.36V156M131.36 156V112.67H133.35V156M133.35 156V112.67H134.85V156M134.85 156V107.65H136.71V156M136.71 156V114.54H138.58V156M138.58 156V115.16H140.07V156M140.07 156V108.68H142.07V156M142.07 156V113.29H143.56V156M143.56 156V120.76H145.05V156M145.05 156V115.78H146.67V156M146.67 156V120.76H148.54V156M148.54 156V126.98H150.4V156M150.4 156V146.27H152.27V156M152.27 156V147.27H154.76V156M154.76 156V139.43H157V156M157 156V139.43H158.24V156M158.24 156V148.76H159.49V156M159.49 156V143.1H160.98V156M160.98 156V154.36H162.97V156M162.97 156V155.23H164.72V156M164.72 156V141.92H166.33V156M166.33 156V143.78H167.95V156M167.95 156V145.65H169.45V156M169.45 156V148.76H170.94V156M170.94 156V150.63H172.56V156M172.56 156V151.25H173.8V156M173.8 156V136.82H175.67V156M175.67 156V141.92H177.16V156M177.16 156V138.8H178.78V156M178.78 156V135.69H180.4V156M180.4 156V139.43H181.89V156M181.89 156V141.92H183.38V156M183.38 156V145.65H185V156M185 156V145.03H186.62V156M186.62 156V138.8H188.11V156M188.11 156V131.09H189.61V156M189.61 156V131.96H191.23V156M191.23 156V141.92H193.09V156M193.09 156V138.18H194.59V156M194.59 156V134.82H196.2V156M196.2 156V138.8H197.82V156M197.82 156V137.81H199.56V156M199.56 156V139.8H201.56V156M201.56 156V151.5H203.3V156M203.3 156V143.78H204.92V156M204.92 156V146.89H206.53V156M206.53 156V145.03H208.28V156M208.28 156V140.05H209.89V156M209.89 156V151.25H211.76V156M211.76 156V145.65H214V156M214 156V134.45H215.49V156M215.49 156V140.05H216.74V156M216.74 156V136.94H218.36V156M218.36 156V145.03H219.97V156M219.97 156V147.52H221.47V156M221.47 156V141.29H222.96V156M222.96 156V141.92H224.58V156M224.58 156V146.89H226.2V156M226.2 156V148.14H227.69V156M227.69 156V146.89H229.18V156M229.18 156V146.27H230.8V156M230.8 156V148.14H232.42V156M232.42 156V152.49H233.91V156M233.91 156V148.51H235.41V156M235.41 156V141.92H237.02V156M237.02 156V140.05H238.64V156M238.64 156V134.07H240.14V156M240.14 156V149.38H241.63V156M241.63 156V146.27H243.25V156M243.25 156V138.18H244.86V156M244.86 156V130.71H246.61V156M246.61 156V136.94H248.23V156M248.23 156V135.07H250.09V156M250.09 156V137.56H251.59V156M251.59 156V139.43H253.2V156M253.2 156V136.56H254.82V156M254.82 156V141.29H256.31V156M256.31 156V140.3H257.81V156M257.81 156V128.23H259.43V156M259.43 156V126.98H261.04V156M261.04 156V118.37H262.79V156M262.79 156V123.87H264.4V156M264.4 156V126.61H266.02V156M266.02 156V127.35H267.76V156M267.76 156V125.74H269.38V156M269.38 156V124.49H271V156M271 156V124.49H272.24V156M272.24 156V118.39H273.74V156M273.74 156V123.25H275.36V156M275.36 156V123.25H276.97V156M276.97 156V114.54H278.72V156M278.72 156V118.89H280.33V156M280.33 156V123.25H281.95V156M281.95 156V123.87H283.45V156M283.45 156V123.62H284.94V156M284.94 156V124.49H286.56V156M286.56 156V124.86H288.17V156M288.17 156V130.09H289.67V156M289.67 156V125.11H291.16V156M291.16 156V130.71H292.78V156M292.78 156V127.35H294.65V156M294.65 156V131.09H296.51V156M296.51 156V125.36H298.13V156M298.13 156V130.34H299.87V156M299.87 156V125.11H301.49V156M301.49 156V130.34H303.11V156M303.11 156V123.25H304.85V156M304.85 156V121.13H306.47V156M306.47 156V110.3H308.34V156M308.34 156V115.16H309.83V156M309.83 156V122.62H311.45V156M311.45 156V123.87H313.07V156M313.07 156V118.89H314.56V156M314.56 156V128.23H316.05V156M316.05 156V126.98H317.67V156M317.67 156V127.6H319.29V156M319.29 156V128.23H320.78V156M320.78 156V132.58H322.28V156M322.28 156V130.71H323.89V156M323.89 156V139.43H325.76V156M325.76 156V131.96H328V156M328 156V127.6H329.49V156M329.49 156V123.87H331.11V156M331.11 156V122.38H332.73V156M332.73 156V130.09H334.22V156M334.22 156V131.09H335.72V156M335.72 156V131.96H337.33V156M337.33 156V132.58H338.95V156M338.95 156V120.14H340.45V156M340.45 156V122.62H341.94V156M341.94 156V115.41H343.56V156M343.56 156V120.14H345.17V156M345.17 156V123.87H346.67V156M346.67 156V128.23H348.16V156M348.16 156V128.23H349.78V156M349.78 156V126.11H351.02V156M351.02 156V107.38H352.64V156M352.64 156V111.42H354.14V156M354.14 156V120.76H355.63V156M355.63 156V126.36H357.25V156M357.25 156V129.1H358.86V156M358.86 156V129.1H360.61V156M360.61 156V126.98H362.23V156M362.23 156V129.47H363.84V156M363.84 156V130.71H365.34V156M365.34 156V131.96H366.83V156M366.83 156V127.6H368.45V156M368.45 156V123.87H370.07V156M370.07 156V120.14H371.81V156M371.81 156V124.49H373.43V156M373.43 156V130.09H375.04V156M375.04 156V120.76H376.79V156M376.79 156V119.51H378.4V156M378.4 156V126.98H380.27V156M72.12 156V128.6M135.78 156V104.95M141.07 156V106.2M160.24 156V140.05M174.73 156V134.07M245.74 156V127.35M261.92 156V115.41M272.99 156V115.78M307.4 156V107.69M351.83 156V105.2"/><path fill="none" stroke="#000" stroke-width="1.1" d="M72.12 154V128.6M135.78 154V104.95M141.07 154V106.2M160.24 154V140.05M174.73 154V134.07M245.74 154V127.35M261.92 154V115.41M272.99 154V115.78M307.4 154V107.69M351.83 154V105.2"/><path fill="#a9cbe6" d="M44.24 156L44.24 153.12L45.49 153.12L45.49 151.25L47.36 151.25L47.36 146.89L49.22 146.89L49.22 151.25L50.72 151.25L50.72 148.76L51.96 148.76L51.96 141.29L53.95 141.29L53.95 143.78L55.69 143.78L55.69 143.16L57.31 143.16L57.31 154.98L58.93 154.98L58.93 156L60.67 156L60.67 148.76L62.29 148.76L62.29 143.78L63.91 143.78L63.91 154.98L65.4 154.98L65.4 156L66.9 156L66.9 153.74L68.14 153.74L68.14 156L69.76 156L69.76 152.49L71.38 152.49L71.38 151.87L72.87 151.87L72.87 156L74.74 156L74.74 156L76.6 156L76.6 156L78.47 156L78.47 156L80.09 156L80.09 149.38L81.83 149.38L81.83 156L83.45 156L83.45 156L85.07 156L85.07 156L86.56 156L86.56 153.74L88.43 153.74L88.43 153.12L90.04 153.12L90.04 156L91.79 156L91.79 156L93.4 156L93.4 154.98L95.02 154.98L95.02 152.49L97.14 152.49L97.14 156L98.76 156L98.76 156L100 156L100 154.98L101.49 154.98L101.49 154.36L103.11 154.36L103.11 153.74L104.73 153.74L104.73 154.36L106.22 154.36L106.22 156L107.72 156L107.72 156L109.96 156L109.96 153.74L111.82 153.74L111.82 153.49L113.44 153.49L113.44 153.74L114.93 153.74L114.93 154.36L116.8 154.36L116.8 156L118.67 156L118.67 156L120.54 156L120.54 156L122.4 156L122.4 156L124.27 156L124.27 156L126.14 156L126.14 150L128 150L128 150L129.87 150L129.87 145.65L131.36 145.65L131.36 150.63L133.35 150.63L133.35 148.76L134.85 148.76L134.85 147.52L136.71 147.52L136.71 148.76L138.58 148.76L138.58 147.52L140.07 147.52L140.07 146.89L142.07 146.89L142.07 148.76L143.56 148.76L143.56 150.63L145.05 150.63L145.05 147.52L146.67 147.52L146.67 148.76L148.54 148.76L148.54 152.49L150.4 152.49L150.4 154.98L152.27 154.98L152.27 156L154.76 156L154.76 156L157 156L157 156L158.24 156L158.24 156L159.49 156L159.49 156L160.98 156L160.98 156L162.97 156L162.97 156L164.72 156L164.72 156L166.33 156L166.33 156L167.95 156L167.95 156L169.45 156L169.45 156L170.94 156L170.94 156L172.56 156L172.56 156L173.8 156L173.8 156L175.67 156L175.67 156L177.16 156L177.16 156L178.78 156L178.78 156L180.4 156L180.4 156L181.89 156L181.89 156L183.38 156L183.38 156L185 156L185 156L186.62 156L186.62 156L188.11 156L188.11 156L189.61 156L189.61 156L191.23 156L191.23 156L193.09 156L193.09 156L194.59 156L194.59 156L196.2 156L196.2 156L197.82 156L197.82 156L199.56 156L199.56 156L201.56 156L201.56 156L203.3 156L203.3 156L204.92 156L204.92 156L206.53 156L206.53 156L208.28 156L208.28 156L209.89 156L209.89 156L211.76 156L211.76 156L214 156L214 156L215.49 156L215.49 156L216.74 156L216.74 156L218.36 156L218.36 156L219.97 156L219.97 156L221.47 156L221.47 156L222.96 156L222.96 156L224.58 156L224.58 156L226.2 156L226.2 156L227.69 156L227.69 156L229.18 156L229.18 156L230.8 156L230.8 156L232.42 156L232.42 156L233.91 156L233.91 156L235.41 156L235.41 156L237.02 156L237.02 156L238.64 156L238.64 156L240.14 156L240.14 156L241.63 156L241.63 156L243.25 156L243.25 156L244.86 156L244.86 156L246.61 156L246.61 156L248.23 156L248.23 156L250.09 156L250.09 156L251.59 156L251.59 156L253.2 156L253.2 156L254.82 156L254.82 156L256.31 156L256.31 156L257.81 156L257.81 154.36L259.43 154.36L259.43 153.74L261.04 153.74L261.04 148.14L262.79 148.14L262.79 153.74L264.4 153.74L264.4 156L266.02 156L266.02 156L267.76 156L267.76 153.74L269.38 153.74L269.38 156L271 156L271 152.49L272.24 152.49L272.24 148.76L273.74 148.76L273.74 153.74L275.36 153.74L275.36 156L276.97 156L276.97 145.65L278.72 145.65L278.72 147.52L280.33 147.52L280.33 150.63L281.95 150.63L281.95 151.87L283.45 151.87L283.45 156L284.94 156L284.94 156L286.56 156L286.56 156L288.17 156L288.17 156L289.67 156L289.67 151.87L291.16 151.87L291.16 156L292.78 156L292.78 156L294.65 156L294.65 156L296.51 156L296.51 156L298.13 156L298.13 156L299.87 156L299.87 152.49L301.49 152.49L301.49 156L303.11 156L303.11 156L304.85 156L304.85 148.76L306.47 148.76L306.47 148.14L308.34 148.14L308.34 150L309.83 150L309.83 147.52L311.45 147.52L311.45 152.49L313.07 152.49L313.07 156L314.56 156L314.56 156L316.05 156L316.05 156L317.67 156L317.67 156L319.29 156L319.29 156L320.78 156L320.78 156L322.28 156L322.28 156L323.89 156L323.89 156L325.76 156L325.76 156L328 156L328 154.98L329.49 154.98L329.49 153.74L331.11 153.74L331.11 153.12L332.73 153.12L332.73 156L334.22 156L334.22 156L335.72 156L335.72 156L337.33 156L337.33 156L338.95 156L338.95 150L340.45 150L340.45 151.87L341.94 151.87L341.94 148.76L343.56 148.76L343.56 150.63L345.17 150.63L345.17 152.49L346.67 152.49L346.67 156L348.16 156L348.16 156L349.78 156L349.78 146.27L351.02 146.27L351.02 137.56L352.64 137.56L352.64 150.63L354.14 150.63L354.14 151.87L355.63 151.87L355.63 153.12L357.25 153.12L357.25 156L358.86 156L358.86 156L360.61 156L360.61 156L362.23 156L362.23 156L363.84 156L363.84 156L365.34 156L365.34 156L366.83 156L366.83 154.98L368.45 154.98L368.45 152.49L370.07 152.49L370.07 150L371.81 150L371.81 153.12L373.43 153.12L373.43 156L375.04 156L375.04 150.63L376.79 150.63L376.79 151.87L378.4 151.87L378.4 152.49L380.27 152.49L380.27 156Z"/><rect x="43.5" y="94.7" width="337.7" height="61.3" fill="none" stroke="#000" stroke-width="1.4"/><path fill="none" stroke="#000" stroke-width="1" d="M43.5 156H38.3M43.5 144.82H40.3M43.5 133.64H40.3M43.5 122.46H40.3M43.5 111.28H40.3M43.5 100.1H38.3M43.5 156V160.5M54.76 156V158.8M66.01 156V158.8M77.27 156V158.8M88.53 156V158.8M99.78 156V160.5M111.04 156V158.8M122.3 156V158.8M133.55 156V158.8M144.81 156V158.8M156.07 156V160.5M167.32 156V158.8M178.58 156V158.8M189.84 156V158.8M201.09 156V158.8M212.35 156V160.5M223.61 156V158.8M234.86 156V158.8M246.12 156V158.8M257.38 156V158.8M268.63 156V160.5M279.89 156V158.8M291.15 156V158.8M302.4 156V158.8M313.66 156V158.8M324.92 156V160.5M336.17 156V158.8M347.43 156V158.8M358.69 156V158.8M369.94 156V158.8M381.2 156V160.5"/><text transform="translate(36.2 160) scale(1.1 1.12)" text-anchor="end" font-size="10.8">0.0</text><text transform="translate(36.2 104.1) scale(1.1 1.12)" text-anchor="end" font-size="10.8">0.1</text><text x="211" y="111.7" text-anchor="middle" font-size="11.2" font-weight="bold">y-Axis</text><path fill="#505050" d="M44.24 235.8L44.24 215.07L45.74 215.07L45.74 216.31L47.36 216.31L47.36 213.83L48.97 213.83L48.97 207.35L50.47 207.35L50.47 192.67L51.96 192.67L51.96 187.81L53.95 187.81L53.95 194.91L55.45 194.91L55.45 202.38L56.94 202.38L56.94 216.94L58.56 216.94L58.56 231.5L60.17 231.5L60.17 232.49L61.67 232.49L61.67 211.96L63.16 211.96L63.16 208.85L64.78 208.85L64.78 221.29L66.02 221.29L66.02 209.62L67.89 209.62L67.89 213.83L69.38 213.83L69.38 213.83L71 213.83L71 212.33L72.87 212.33L72.87 216.94L74.74 216.94L74.74 225.65L76.6 225.65L76.6 226.27L78.47 226.27L78.47 222.54L80.09 222.54L80.09 219.8L81.83 219.8L81.83 221.29L83.45 221.29L83.45 220.67L85.07 220.67L85.07 215.69L86.81 215.69L86.81 210.09L88.43 210.09L88.43 217.56L90.04 217.56L90.04 220.05L91.79 220.05L91.79 219.43L93.4 219.43L93.4 215.69L95.02 215.69L95.02 214.45L96.76 214.45L96.76 217.56L98.38 217.56L98.38 220.67L100 220.67L100 225.03L101.49 225.03L101.49 220.67L103.11 220.67L103.11 214.44L104.73 214.44L104.73 223.16L106.22 223.16L106.22 233.74L107.72 233.74L107.72 234.98L109.33 234.98L109.33 229.76L110.95 229.76L110.95 224.4L112.45 224.4L112.45 220.05L113.94 220.05L113.94 225.03L115.56 225.03L115.56 228.14L117.17 228.14L117.17 231.87L118.92 231.87L118.92 227.27L120.54 227.27L120.54 227.52L122.15 227.52L122.15 224.4L123.65 224.4L123.65 221.92L125.51 221.92L125.51 218.8L126.76 218.8L126.76 216.94L128.38 216.94L128.38 203.87L130.12 203.87L130.12 195.78L131.74 195.78L131.74 194.54L133.6 194.54L133.6 194.54L135.1 194.54L135.1 191.42L136.71 191.42L136.71 194.54L138.33 194.54L138.33 192.05L139.83 192.05L139.83 192.05L141.69 192.05L141.69 196.4L143.56 196.4L143.56 200.76L145.43 200.76L145.43 205.11L147.04 205.11L147.04 203.87L148.79 203.87L148.79 201.38L150.78 201.38L150.78 233.12L152.27 233.12L152.27 233.74L154.76 233.74L154.76 227.52L157 227.52L157 227.52L158.24 227.52L158.24 232.49L159.49 232.49L159.49 223.6L161.36 223.6L161.36 234.36L162.97 234.36L162.97 234.98L164.72 234.98L164.72 231.87L166.33 231.87L166.33 231.25L167.95 231.25L167.95 227.76L169.45 227.76L169.45 233.74L170.94 233.74L170.94 234.98L172.56 234.98L172.56 233.12L174.17 233.12L174.17 222.54L175.67 222.54L175.67 223.16L177.16 223.16L177.16 221.29L178.78 221.29L178.78 217.56L180.65 217.56L180.65 229.38L182.51 229.38L182.51 223.72L184.13 223.72L184.13 231.87L185.87 231.87L185.87 218.56L187.49 218.56L187.49 217.31L189.11 217.31L189.11 217.81L190.6 217.81L190.6 220.67L192.47 220.67L192.47 226.89L194.34 226.89L194.34 214.45L196.2 214.45L196.2 216.31L197.82 216.31L197.82 221.29L199.56 221.29L199.56 218.18L201.56 218.18L201.56 231.25L203.3 231.25L203.3 225.03L204.92 225.03L204.92 225.65L206.53 225.65L206.53 224.4L208.28 224.4L208.28 218.34L209.89 218.34L209.89 226.27L211.76 226.27L211.76 226.89L214 226.89L214 221.29L215.49 221.29L215.49 220.67L217.11 220.67L217.11 224.4L218.73 224.4L218.73 230L220.22 230L220.22 229.38L221.72 229.38L221.72 222.04L222.96 222.04L222.96 226.89L224.58 226.89L224.58 231.25L226.2 231.25L226.2 226.89L227.69 226.89L227.69 231.25L229.18 231.25L229.18 231.5L230.8 231.5L230.8 226.08L232.05 226.08L232.05 234.98L233.66 234.98L233.66 228.76L235.16 228.76L235.16 219.43L237.02 219.43L237.02 218.8L238.64 218.8L238.64 218.18L240.14 218.18L240.14 230.63L241.63 230.63L241.63 221.29L243.25 221.29L243.25 220.67L244.86 220.67L244.86 214.44L246.11 214.44L246.11 221.29L247.6 221.29L247.6 220.05L249.1 220.05L249.1 215.07L250.71 215.07L250.71 220.3L252.33 220.3L252.33 219.8L253.83 219.8L253.83 231.25L255.69 231.25L255.69 231.25L257.56 231.25L257.56 222.29L259.05 222.29L259.05 220.05L260.67 220.05L260.67 211.09L262.29 211.09L262.29 209.47L263.78 209.47L263.78 201.63L265.28 201.63L265.28 206.98L266.89 206.98L266.89 209.47L268.76 209.47L268.76 208.85L271 208.85L271 208.85L272.49 208.85L272.49 210.09L274.11 210.09L274.11 209.47L275.73 209.47L275.73 209.1L277.22 209.1L277.22 204.08L278.72 204.08L278.72 210.09L280.33 210.09L280.33 210.71L281.95 210.71L281.95 206.98L283.45 206.98L283.45 203.25L284.94 203.25L284.94 202.38L286.56 202.38L286.56 205.11L288.17 205.11L288.17 205.74L289.67 205.74L289.67 203.25L291.16 203.25L291.16 206.61L292.78 206.61L292.78 208.23L294.65 208.23L294.65 206.98L296.51 206.98L296.51 206.61L298.13 206.61L298.13 210.71L299.87 210.71L299.87 206.36L301.49 206.36L301.49 202.31L303.11 202.31L303.11 206.98L304.85 206.98L304.85 197.02L306.47 197.02L306.47 205.11L308.34 205.11L308.34 195.47L309.83 195.47L309.83 199.51L311.45 199.51L311.45 203.87L313.07 203.87L313.07 206.98L314.56 206.98L314.56 207.6L316.05 207.6L316.05 206.98L317.67 206.98L317.67 206.61L319.29 206.61L319.29 217.56L320.78 217.56L320.78 216.94L322.28 216.94L322.28 220.67L323.89 220.67L323.89 221.92L325.76 221.92L325.76 222.54L328 222.54L328.5 220.67L329.99 220.67L329.99 220.05L331.61 220.05L331.61 220.67L333.23 220.67L333.23 221.92L334.72 221.92L334.72 221.92L336.22 221.92L336.22 221.29L337.83 221.29L337.83 219.43L339.45 219.43L339.45 182.71L340.95 182.71L340.95 177.11L342.44 177.11L342.44 178.98L344.06 178.98L344.06 196.4L345.67 196.4L345.67 211.34L347.17 211.34L347.17 211.96L348.66 211.96L348.66 210.09L350.28 210.09L350.28 207.6L351.52 207.6L351.52 199.86L353.14 199.86L353.14 205.11L354.64 205.11L354.64 203.25L356.13 203.25L356.13 213.2L357.75 213.2L357.75 220.05L359.36 220.05L359.36 227.52L361.11 227.52L361.11 227.52L362.73 227.52L362.73 227.27L364.34 227.27L364.34 227.27L365.84 227.27L365.84 227.52L367.33 227.52L367.33 228.14L368.95 228.14L368.95 234.98L370.81 234.98L370.81 227.52L372.31 227.52L372.31 227.27L373.93 227.27L373.93 218.18L375.54 218.18L375.54 219.43L377.29 219.43L377.29 220.05L378.9 220.05L378.9 218.18L380.77 218.18L380.77 235.8Z"/><path fill="#34485a" d="M44.24 235.8L44.24 225.44L45.74 225.44L45.74 226.06L47.36 226.06L47.36 224.81L48.97 224.81L48.97 221.58L50.47 221.58L50.47 214.23L51.96 214.23L51.96 211.81L53.95 211.81L53.95 215.35L55.45 215.35L55.45 219.09L56.94 219.09L56.94 226.37L58.56 226.37L58.56 233.65L60.17 233.65L60.17 234.15L61.67 234.15L61.67 223.88L63.16 223.88L63.16 222.32L64.78 222.32L64.78 228.55L66.02 228.55L66.02 222.71L67.89 222.71L67.89 224.81L69.38 224.81L69.38 224.81L71 224.81L71 224.07L72.87 224.07L72.87 226.37L74.74 226.37L74.74 230.72L76.6 230.72L76.6 231.04L78.47 231.04L78.47 229.17L80.09 229.17L80.09 227.8L81.83 227.8L81.83 228.55L83.45 228.55L83.45 228.24L85.07 228.24L85.07 225.75L86.81 225.75L86.81 222.95L88.43 222.95L88.43 226.68L90.04 226.68L90.04 227.92L91.79 227.92L91.79 227.61L93.4 227.61L93.4 225.75L95.02 225.75L95.02 225.12L96.76 225.12L96.76 226.68L98.38 226.68L98.38 228.24L100 228.24L100 230.41L101.49 230.41L101.49 228.24L103.11 228.24L103.11 225.12L104.73 225.12L104.73 229.48L106.22 229.48L106.22 234.77L107.72 234.77L107.72 235.39L109.33 235.39L109.33 232.78L110.95 232.78L110.95 230.1L112.45 230.1L112.45 227.92L113.94 227.92L113.94 230.41L115.56 230.41L115.56 231.97L117.17 231.97L117.17 233.84L118.92 233.84L118.92 231.53L120.54 231.53L120.54 231.66L122.15 231.66L122.15 230.1L123.65 230.1L123.65 228.86L125.51 228.86L125.51 227.3L126.76 227.3L126.76 226.37L128.38 226.37L128.38 219.83L130.12 219.83L130.12 215.79L131.74 215.79L131.74 215.17L133.6 215.17L133.6 215.17L135.1 215.17L135.1 213.61L136.71 213.61L136.71 215.17L138.33 215.17L138.33 213.92L139.83 213.92L139.83 213.92L141.69 213.92L141.69 216.1L143.56 216.1L143.56 218.28L145.43 218.28L145.43 220.46L147.04 220.46L147.04 219.83L148.79 219.83L148.79 218.59L150.78 218.59L150.78 234.46L152.27 234.46L152.27 234.77L154.76 234.77L154.76 231.66L157 231.66L157 231.66L158.24 231.66L158.24 234.15L159.49 234.15L159.49 229.7L161.36 229.7L161.36 235.08L162.97 235.08L162.97 235.39L164.72 235.39L164.72 233.84L166.33 233.84L166.33 233.52L167.95 233.52L167.95 231.78L169.45 231.78L169.45 234.77L170.94 234.77L170.94 235.39L172.56 235.39L172.56 234.46L174.17 234.46L174.17 229.17L175.67 229.17L175.67 229.48L177.16 229.48L177.16 228.55L178.78 228.55L178.78 226.68L180.65 226.68L180.65 232.59L182.51 232.59L182.51 229.76L184.13 229.76L184.13 233.84L185.87 233.84L185.87 227.18L187.49 227.18L187.49 226.56L189.11 226.56L189.11 226.8L190.6 226.8L190.6 228.24L192.47 228.24L192.47 231.35L194.34 231.35L194.34 225.12L196.2 225.12L196.2 226.06L197.82 226.06L197.82 228.55L199.56 228.55L199.56 226.99L201.56 226.99L201.56 233.52L203.3 233.52L203.3 230.41L204.92 230.41L204.92 230.72L206.53 230.72L206.53 230.1L208.28 230.1L208.28 227.07L209.89 227.07L209.89 231.04L211.76 231.04L211.76 231.35L214 231.35L214 228.55L215.49 228.55L215.49 228.24L217.11 228.24L217.11 230.1L218.73 230.1L218.73 232.9L220.22 232.9L220.22 232.59L221.72 232.59L221.72 228.92L222.96 228.92L222.96 231.35L224.58 231.35L224.58 233.52L226.2 233.52L226.2 231.35L227.69 231.35L227.69 233.52L229.18 233.52L229.18 233.65L230.8 233.65L230.8 230.94L232.05 230.94L232.05 235.39L233.66 235.39L233.66 232.28L235.16 232.28L235.16 227.61L237.02 227.61L237.02 227.3L238.64 227.3L238.64 226.99L240.14 226.99L240.14 233.21L241.63 233.21L241.63 228.55L243.25 228.55L243.25 228.24L244.86 228.24L244.86 225.12L246.11 225.12L246.11 228.55L247.6 228.55L247.6 227.92L249.1 227.92L249.1 225.44L250.71 225.44L250.71 228.05L252.33 228.05L252.33 227.8L253.83 227.8L253.83 233.52L255.69 233.52L255.69 233.52L257.56 233.52L257.56 229.04L259.05 229.04L259.05 227.92L260.67 227.92L260.67 223.44L262.29 223.44L262.29 222.63L263.78 222.63L263.78 218.71L265.28 218.71L265.28 221.39L266.89 221.39L266.89 222.63L268.76 222.63L268.76 222.32L271 222.32L271 222.32L272.49 222.32L272.49 222.95L274.11 222.95L274.11 222.63L275.73 222.63L275.73 222.45L277.22 222.45L277.22 219.94L278.72 219.94L278.72 222.95L280.33 222.95L280.33 223.26L281.95 223.26L281.95 221.39L283.45 221.39L283.45 219.52L284.94 219.52L284.94 219.09L286.56 219.09L286.56 220.46L288.17 220.46L288.17 220.77L289.67 220.77L289.67 219.52L291.16 219.52L291.16 221.2L292.78 221.2L292.78 222.01L294.65 222.01L294.65 221.39L296.51 221.39L296.51 221.2L298.13 221.2L298.13 223.26L299.87 223.26L299.87 221.08L301.49 221.08L301.49 219.06L303.11 219.06L303.11 221.39L304.85 221.39L304.85 216.41L306.47 216.41L306.47 220.46L308.34 220.46L308.34 215.63L309.83 215.63L309.83 217.66L311.45 217.66L311.45 219.83L313.07 219.83L313.07 221.39L314.56 221.39L314.56 221.7L316.05 221.7L316.05 221.39L317.67 221.39L317.67 221.2L319.29 221.2L319.29 226.68L320.78 226.68L320.78 226.37L322.28 226.37L322.28 228.24L323.89 228.24L323.89 228.86L325.76 228.86L325.76 229.17L328 229.17L328.5 228.24L329.99 228.24L329.99 227.92L331.61 227.92L331.61 228.24L333.23 228.24L333.23 228.86L334.72 228.86L334.72 228.86L336.22 228.86L336.22 228.55L337.83 228.55L337.83 227.61L339.45 227.61L339.45 209.26L340.95 209.26L340.95 206.46L342.44 206.46L342.44 207.39L344.06 207.39L344.06 216.1L345.67 216.1L345.67 223.57L347.17 223.57L347.17 223.88L348.66 223.88L348.66 222.95L350.28 222.95L350.28 221.7L351.52 221.7L351.52 217.83L353.14 217.83L353.14 220.46L354.64 220.46L354.64 219.52L356.13 219.52L356.13 224.5L357.75 224.5L357.75 227.92L359.36 227.92L359.36 231.66L361.11 231.66L361.11 231.66L362.73 231.66L362.73 231.53L364.34 231.53L364.34 231.53L365.84 231.53L365.84 231.66L367.33 231.66L367.33 231.97L368.95 231.97L368.95 235.39L370.81 235.39L370.81 231.66L372.31 231.66L372.31 231.53L373.93 231.53L373.93 226.99L375.54 226.99L375.54 227.61L377.29 227.61L377.29 227.92L378.9 227.92L378.9 226.99L380.77 226.99L380.77 235.8Z"/><path fill="none" stroke="#111" stroke-width="0.8" d="M44.24 235.8V215.07H45.74V235.8M45.74 235.8V216.31H47.36V235.8M47.36 235.8V213.83H48.97V235.8M48.97 235.8V207.35H50.47V235.8M50.47 235.8V192.67H51.96V235.8M51.96 235.8V187.81H53.95V235.8M53.95 235.8V194.91H55.45V235.8M55.45 235.8V202.38H56.94V235.8M56.94 235.8V216.94H58.56V235.8M58.56 235.8V231.5H60.17V235.8M60.17 235.8V232.49H61.67V235.8M61.67 235.8V211.96H63.16V235.8M63.16 235.8V208.85H64.78V235.8M64.78 235.8V221.29H66.02V235.8M66.02 235.8V209.62H67.89V235.8M67.89 235.8V213.83H69.38V235.8M69.38 235.8V213.83H71V235.8M71 235.8V212.33H72.87V235.8M72.87 235.8V216.94H74.74V235.8M74.74 235.8V225.65H76.6V235.8M76.6 235.8V226.27H78.47V235.8M78.47 235.8V222.54H80.09V235.8M80.09 235.8V219.8H81.83V235.8M81.83 235.8V221.29H83.45V235.8M83.45 235.8V220.67H85.07V235.8M85.07 235.8V215.69H86.81V235.8M86.81 235.8V210.09H88.43V235.8M88.43 235.8V217.56H90.04V235.8M90.04 235.8V220.05H91.79V235.8M91.79 235.8V219.43H93.4V235.8M93.4 235.8V215.69H95.02V235.8M95.02 235.8V214.45H96.76V235.8M96.76 235.8V217.56H98.38V235.8M98.38 235.8V220.67H100V235.8M100 235.8V225.03H101.49V235.8M101.49 235.8V220.67H103.11V235.8M103.11 235.8V214.44H104.73V235.8M104.73 235.8V223.16H106.22V235.8M106.22 235.8V233.74H107.72V235.8M107.72 235.8V234.98H109.33V235.8M109.33 235.8V229.76H110.95V235.8M110.95 235.8V224.4H112.45V235.8M112.45 235.8V220.05H113.94V235.8M113.94 235.8V225.03H115.56V235.8M115.56 235.8V228.14H117.17V235.8M117.17 235.8V231.87H118.92V235.8M118.92 235.8V227.27H120.54V235.8M120.54 235.8V227.52H122.15V235.8M122.15 235.8V224.4H123.65V235.8M123.65 235.8V221.92H125.51V235.8M125.51 235.8V218.8H126.76V235.8M126.76 235.8V216.94H128.38V235.8M128.38 235.8V203.87H130.12V235.8M130.12 235.8V195.78H131.74V235.8M131.74 235.8V194.54H133.6V235.8M133.6 235.8V194.54H135.1V235.8M135.1 235.8V191.42H136.71V235.8M136.71 235.8V194.54H138.33V235.8M138.33 235.8V192.05H139.83V235.8M139.83 235.8V192.05H141.69V235.8M141.69 235.8V196.4H143.56V235.8M143.56 235.8V200.76H145.43V235.8M145.43 235.8V205.11H147.04V235.8M147.04 235.8V203.87H148.79V235.8M148.79 235.8V201.38H150.78V235.8M150.78 235.8V233.12H152.27V235.8M152.27 235.8V233.74H154.76V235.8M154.76 235.8V227.52H157V235.8M157 235.8V227.52H158.24V235.8M158.24 235.8V232.49H159.49V235.8M159.49 235.8V223.6H161.36V235.8M161.36 235.8V234.36H162.97V235.8M162.97 235.8V234.98H164.72V235.8M164.72 235.8V231.87H166.33V235.8M166.33 235.8V231.25H167.95V235.8M167.95 235.8V227.76H169.45V235.8M169.45 235.8V233.74H170.94V235.8M170.94 235.8V234.98H172.56V235.8M172.56 235.8V233.12H174.17V235.8M174.17 235.8V222.54H175.67V235.8M175.67 235.8V223.16H177.16V235.8M177.16 235.8V221.29H178.78V235.8M178.78 235.8V217.56H180.65V235.8M180.65 235.8V229.38H182.51V235.8M182.51 235.8V223.72H184.13V235.8M184.13 235.8V231.87H185.87V235.8M185.87 235.8V218.56H187.49V235.8M187.49 235.8V217.31H189.11V235.8M189.11 235.8V217.81H190.6V235.8M190.6 235.8V220.67H192.47V235.8M192.47 235.8V226.89H194.34V235.8M194.34 235.8V214.45H196.2V235.8M196.2 235.8V216.31H197.82V235.8M197.82 235.8V221.29H199.56V235.8M199.56 235.8V218.18H201.56V235.8M201.56 235.8V231.25H203.3V235.8M203.3 235.8V225.03H204.92V235.8M204.92 235.8V225.65H206.53V235.8M206.53 235.8V224.4H208.28V235.8M208.28 235.8V218.34H209.89V235.8M209.89 235.8V226.27H211.76V235.8M211.76 235.8V226.89H214V235.8M214 235.8V221.29H215.49V235.8M215.49 235.8V220.67H217.11V235.8M217.11 235.8V224.4H218.73V235.8M218.73 235.8V230H220.22V235.8M220.22 235.8V229.38H221.72V235.8M221.72 235.8V222.04H222.96V235.8M222.96 235.8V226.89H224.58V235.8M224.58 235.8V231.25H226.2V235.8M226.2 235.8V226.89H227.69V235.8M227.69 235.8V231.25H229.18V235.8M229.18 235.8V231.5H230.8V235.8M230.8 235.8V226.08H232.05V235.8M232.05 235.8V234.98H233.66V235.8M233.66 235.8V228.76H235.16V235.8M235.16 235.8V219.43H237.02V235.8M237.02 235.8V218.8H238.64V235.8M238.64 235.8V218.18H240.14V235.8M240.14 235.8V230.63H241.63V235.8M241.63 235.8V221.29H243.25V235.8M243.25 235.8V220.67H244.86V235.8M244.86 235.8V214.44H246.11V235.8M246.11 235.8V221.29H247.6V235.8M247.6 235.8V220.05H249.1V235.8M249.1 235.8V215.07H250.71V235.8M250.71 235.8V220.3H252.33V235.8M252.33 235.8V219.8H253.83V235.8M253.83 235.8V231.25H255.69V235.8M255.69 235.8V231.25H257.56V235.8M257.56 235.8V222.29H259.05V235.8M259.05 235.8V220.05H260.67V235.8M260.67 235.8V211.09H262.29V235.8M262.29 235.8V209.47H263.78V235.8M263.78 235.8V201.63H265.28V235.8M265.28 235.8V206.98H266.89V235.8M266.89 235.8V209.47H268.76V235.8M268.76 235.8V208.85H271V235.8M271 235.8V208.85H272.49V235.8M272.49 235.8V210.09H274.11V235.8M274.11 235.8V209.47H275.73V235.8M275.73 235.8V209.1H277.22V235.8M277.22 235.8V204.08H278.72V235.8M278.72 235.8V210.09H280.33V235.8M280.33 235.8V210.71H281.95V235.8M281.95 235.8V206.98H283.45V235.8M283.45 235.8V203.25H284.94V235.8M284.94 235.8V202.38H286.56V235.8M286.56 235.8V205.11H288.17V235.8M288.17 235.8V205.74H289.67V235.8M289.67 235.8V203.25H291.16V235.8M291.16 235.8V206.61H292.78V235.8M292.78 235.8V208.23H294.65V235.8M294.65 235.8V206.98H296.51V235.8M296.51 235.8V206.61H298.13V235.8M298.13 235.8V210.71H299.87V235.8M299.87 235.8V206.36H301.49V235.8M301.49 235.8V202.31H303.11V235.8M303.11 235.8V206.98H304.85V235.8M304.85 235.8V197.02H306.47V235.8M306.47 235.8V205.11H308.34V235.8M308.34 235.8V195.47H309.83V235.8M309.83 235.8V199.51H311.45V235.8M311.45 235.8V203.87H313.07V235.8M313.07 235.8V206.98H314.56V235.8M314.56 235.8V207.6H316.05V235.8M316.05 235.8V206.98H317.67V235.8M317.67 235.8V206.61H319.29V235.8M319.29 235.8V217.56H320.78V235.8M320.78 235.8V216.94H322.28V235.8M322.28 235.8V220.67H323.89V235.8M323.89 235.8V221.92H325.76V235.8M325.76 235.8V222.54H328V235.8M328.5 235.8V220.67H329.99V235.8M329.99 235.8V220.05H331.61V235.8M331.61 235.8V220.67H333.23V235.8M333.23 235.8V221.92H334.72V235.8M334.72 235.8V221.92H336.22V235.8M336.22 235.8V221.29H337.83V235.8M337.83 235.8V219.43H339.45V235.8M339.45 235.8V182.71H340.95V235.8M340.95 235.8V177.11H342.44V235.8M342.44 235.8V178.98H344.06V235.8M344.06 235.8V196.4H345.67V235.8M345.67 235.8V211.34H347.17V235.8M347.17 235.8V211.96H348.66V235.8M348.66 235.8V210.09H350.28V235.8M350.28 235.8V207.6H351.52V235.8M351.52 235.8V199.86H353.14V235.8M353.14 235.8V205.11H354.64V235.8M354.64 235.8V203.25H356.13V235.8M356.13 235.8V213.2H357.75V235.8M357.75 235.8V220.05H359.36V235.8M359.36 235.8V227.52H361.11V235.8M361.11 235.8V227.52H362.73V235.8M362.73 235.8V227.27H364.34V235.8M364.34 235.8V227.27H365.84V235.8M365.84 235.8V227.52H367.33V235.8M367.33 235.8V228.14H368.95V235.8M368.95 235.8V234.98H370.81V235.8M370.81 235.8V227.52H372.31V235.8M372.31 235.8V227.27H373.93V235.8M373.93 235.8V218.18H375.54V235.8M375.54 235.8V219.43H377.29V235.8M377.29 235.8V220.05H378.9V235.8M378.9 235.8V218.18H380.77V235.8M52.96 235.8V185.2M66.96 235.8V207.35M103.92 235.8V211.09M160.42 235.8V218.8M183.32 235.8V220.67M209.08 235.8V215.07M222.34 235.8V219.43M231.42 235.8V223.16M245.49 235.8V211.09M277.97 235.8V201.38M302.3 235.8V200.14M305.66 235.8V192.67M309.08 235.8V193.29M352.33 235.8V197.02"/><path fill="none" stroke="#000" stroke-width="1.1" d="M52.96 233.8V185.2M66.96 233.8V207.35M103.92 233.8V211.09M160.42 233.8V218.8M183.32 233.8V220.67M209.08 233.8V215.07M222.34 233.8V219.43M231.42 233.8V223.16M245.49 233.8V211.09M277.97 233.8V201.38M302.3 233.8V200.14M305.66 233.8V192.67M309.08 233.8V193.29M352.33 233.8V197.02"/><path fill="#a9cbe6" d="M44.24 235.8L44.24 228.76L45.74 228.76L45.74 229.38L47.36 229.38L47.36 228.14L48.97 228.14L48.97 227.52L50.47 227.52L50.47 220.05L51.96 220.05L51.96 218.18L53.95 218.18L53.95 226.27L55.45 226.27L55.45 213.83L56.94 213.83L56.94 217.56L58.56 217.56L58.56 235.8L60.17 235.8L60.17 235.8L61.67 235.8L61.67 230L63.16 230L63.16 228.76L64.78 228.76L64.78 235.8L66.02 235.8L66.02 229.38L67.89 229.38L67.89 231.25L69.38 231.25L69.38 231.25L71 231.25L71 228.76L72.87 228.76L72.87 232.49L74.74 232.49L74.74 235.8L76.6 235.8L76.6 235.8L78.47 235.8L78.47 235.8L80.09 235.8L80.09 231.87L81.83 231.87L81.83 235.8L83.45 235.8L83.45 235.8L85.07 235.8L85.07 235.8L86.81 235.8L86.81 235.8L88.43 235.8L88.43 233.74L90.04 233.74L90.04 235.8L91.79 235.8L91.79 235.8L93.4 235.8L93.4 235.8L95.02 235.8L95.02 231.87L96.76 231.87L96.76 235.8L98.38 235.8L98.38 235.8L100 235.8L100 235.8L101.49 235.8L101.49 235.8L103.11 235.8L103.11 235.8L104.73 235.8L104.73 235.8L106.22 235.8L106.22 235.8L107.72 235.8L107.72 235.8L109.33 235.8L109.33 235.8L110.95 235.8L110.95 235.8L112.45 235.8L112.45 235.8L113.94 235.8L113.94 235.8L115.56 235.8L115.56 235.8L117.17 235.8L117.17 235.8L118.92 235.8L118.92 235.8L120.54 235.8L120.54 235.8L122.15 235.8L122.15 235.8L123.65 235.8L123.65 235.8L125.51 235.8L125.51 235.8L126.76 235.8L126.76 233.74L128.38 233.74L128.38 230.63L130.12 230.63L130.12 228.76L131.74 228.76L131.74 229.38L133.6 229.38L133.6 228.76L135.1 228.76L135.1 228.14L136.71 228.14L136.71 227.52L138.33 227.52L138.33 226.89L139.83 226.89L139.83 228.14L141.69 228.14L141.69 228.76L143.56 228.76L143.56 230.63L145.43 230.63L145.43 232.49L147.04 232.49L147.04 230L148.79 230L148.79 227.52L150.78 227.52L150.78 235.8L152.27 235.8L152.27 235.8L154.76 235.8L154.76 235.8L157 235.8L157 235.8L158.24 235.8L158.24 235.8L159.49 235.8L159.49 235.8L161.36 235.8L161.36 235.8L162.97 235.8L162.97 235.8L164.72 235.8L164.72 235.8L166.33 235.8L166.33 235.8L167.95 235.8L167.95 235.8L169.45 235.8L169.45 235.8L170.94 235.8L170.94 235.8L172.56 235.8L172.56 235.8L174.17 235.8L174.17 235.8L175.67 235.8L175.67 235.8L177.16 235.8L177.16 235.8L178.78 235.8L178.78 235.8L180.65 235.8L180.65 235.8L182.51 235.8L182.51 235.8L184.13 235.8L184.13 235.8L185.87 235.8L185.87 235.8L187.49 235.8L187.49 235.8L189.11 235.8L189.11 235.8L190.6 235.8L190.6 235.8L192.47 235.8L192.47 235.8L194.34 235.8L194.34 235.8L196.2 235.8L196.2 235.8L197.82 235.8L197.82 235.8L199.56 235.8L199.56 235.8L201.56 235.8L201.56 235.8L203.3 235.8L203.3 235.8L204.92 235.8L204.92 235.8L206.53 235.8L206.53 235.8L208.28 235.8L208.28 235.8L209.89 235.8L209.89 235.8L211.76 235.8L211.76 235.8L214 235.8L214 235.8L215.49 235.8L215.49 235.8L217.11 235.8L217.11 235.8L218.73 235.8L218.73 235.8L220.22 235.8L220.22 235.8L221.72 235.8L221.72 235.8L222.96 235.8L222.96 235.8L224.58 235.8L224.58 235.8L226.2 235.8L226.2 235.8L227.69 235.8L227.69 235.8L229.18 235.8L229.18 235.8L230.8 235.8L230.8 235.8L232.05 235.8L232.05 235.8L233.66 235.8L233.66 235.8L235.16 235.8L235.16 235.8L237.02 235.8L237.02 235.8L238.64 235.8L238.64 235.8L240.14 235.8L240.14 235.8L241.63 235.8L241.63 235.8L243.25 235.8L243.25 235.8L244.86 235.8L244.86 235.8L246.11 235.8L246.11 235.8L247.6 235.8L247.6 235.8L249.1 235.8L249.1 235.8L250.71 235.8L250.71 235.8L252.33 235.8L252.33 235.8L253.83 235.8L253.83 235.8L255.69 235.8L255.69 235.8L257.56 235.8L257.56 235.8L259.05 235.8L259.05 235.8L260.67 235.8L260.67 235.8L262.29 235.8L262.29 234.98L263.78 234.98L263.78 230L265.28 230L265.28 233.74L266.89 233.74L266.89 235.8L268.76 235.8L268.76 235.8L271 235.8L271 235.8L272.49 235.8L272.49 235.8L274.11 235.8L274.11 235.8L275.73 235.8L275.73 235.8L277.22 235.8L277.22 230L278.72 230L278.72 235.8L280.33 235.8L280.33 235.8L281.95 235.8L281.95 235.8L283.45 235.8L283.45 232.49L284.94 232.49L284.94 231.87L286.56 231.87L286.56 231.25L288.17 231.25L288.17 235.8L289.67 235.8L289.67 235.8L291.16 235.8L291.16 235.8L292.78 235.8L292.78 235.8L294.65 235.8L294.65 235.8L296.51 235.8L296.51 235.8L298.13 235.8L298.13 235.8L299.87 235.8L299.87 235.8L301.49 235.8L301.49 228.14L303.11 228.14L303.11 230.63L304.85 230.63L304.85 224.4L306.47 224.4L306.47 235.8L308.34 235.8L308.34 231.25L309.83 231.25L309.83 228.76L311.45 228.76L311.45 235.8L313.07 235.8L313.07 235.8L314.56 235.8L314.56 235.8L316.05 235.8L316.05 235.8L317.67 235.8L317.67 233.12L319.29 233.12L319.29 235.8L320.78 235.8L320.78 234.36L322.28 234.36L322.28 235.8L323.89 235.8L323.89 235.8L325.76 235.8L325.76 235.8L328 235.8L328.5 235.8L329.99 235.8L329.99 235.8L331.61 235.8L331.61 235.8L333.23 235.8L333.23 235.8L334.72 235.8L334.72 235.8L336.22 235.8L336.22 235.8L337.83 235.8L337.83 235.8L339.45 235.8L339.45 227.52L340.95 227.52L340.95 227.76L342.44 227.76L342.44 228.76L344.06 228.76L344.06 229.38L345.67 229.38L345.67 235.8L347.17 235.8L347.17 235.8L348.66 235.8L348.66 233.12L350.28 233.12L350.28 232.49L351.52 232.49L351.52 233.12L353.14 233.12L353.14 235.8L354.64 235.8L354.64 235.8L356.13 235.8L356.13 235.8L357.75 235.8L357.75 235.8L359.36 235.8L359.36 235.8L361.11 235.8L361.11 235.8L362.73 235.8L362.73 235.8L364.34 235.8L364.34 235.8L365.84 235.8L365.84 235.8L367.33 235.8L367.33 235.8L368.95 235.8L368.95 235.8L370.81 235.8L370.81 235.8L372.31 235.8L372.31 235.8L373.93 235.8L373.93 235.8L375.54 235.8L375.54 235.8L377.29 235.8L377.29 235.8L378.9 235.8L378.9 235.8L380.77 235.8L380.77 235.8Z"/><rect x="43.5" y="174.4" width="337.7" height="61.4" fill="none" stroke="#000" stroke-width="1.4"/><path fill="none" stroke="#000" stroke-width="1" d="M43.5 235.8H38.3M43.5 224.6H40.3M43.5 213.4H40.3M43.5 202.2H40.3M43.5 191H40.3M43.5 179.8H38.3M43.5 235.8V240.3M54.76 235.8V238.6M66.01 235.8V238.6M77.27 235.8V238.6M88.53 235.8V238.6M99.78 235.8V240.3M111.04 235.8V238.6M122.3 235.8V238.6M133.55 235.8V238.6M144.81 235.8V238.6M156.07 235.8V240.3M167.32 235.8V238.6M178.58 235.8V238.6M189.84 235.8V238.6M201.09 235.8V238.6M212.35 235.8V240.3M223.61 235.8V238.6M234.86 235.8V238.6M246.12 235.8V238.6M257.38 235.8V238.6M268.63 235.8V240.3M279.89 235.8V238.6M291.15 235.8V238.6M302.4 235.8V238.6M313.66 235.8V238.6M324.92 235.8V240.3M336.17 235.8V238.6M347.43 235.8V238.6M358.69 235.8V238.6M369.94 235.8V238.6M381.2 235.8V240.3"/><text transform="translate(36.2 239.8) scale(1.1 1.12)" text-anchor="end" font-size="10.8">0.0</text><text transform="translate(36.2 183.8) scale(1.1 1.12)" text-anchor="end" font-size="10.8">0.1</text><text x="211" y="191.4" text-anchor="middle" font-size="11.2" font-weight="bold">z-Axis</text><text transform="translate(43.5 251.4) scale(1.04 1.12)" text-anchor="middle" font-size="10.5">0</text><text transform="translate(99.78 251.4) scale(1.04 1.12)" text-anchor="middle" font-size="10.5">1000</text><text transform="translate(156.07 251.4) scale(1.04 1.12)" text-anchor="middle" font-size="10.5">2000</text><text transform="translate(212.35 251.4) scale(1.04 1.12)" text-anchor="middle" font-size="10.5">3000</text><text transform="translate(268.63 251.4) scale(1.04 1.12)" text-anchor="middle" font-size="10.5">4000</text><text transform="translate(324.92 251.4) scale(1.04 1.12)" text-anchor="middle" font-size="10.5">5000</text><text transform="translate(381.2 251.4) scale(1.04 1.12)" text-anchor="middle" font-size="10.5">6000</text><text x="212" y="10.6" text-anchor="middle" font-size="12.8" font-weight="bold">Spectral Features</text><text x="212" y="270.5" text-anchor="middle" font-size="12.7" font-weight="bold">Frequency (Hz)</text><text transform="translate(12.6 125) rotate(-90)" text-anchor="middle" font-size="12.8" font-weight="bold">Feature Importance</text><text x="212.7" y="293.2" text-anchor="middle" font-size="12.8" font-weight="bold">Non-Spectral Features</text><text transform="translate(17.5 389.5) rotate(-90)" text-anchor="middle" font-size="12.8" font-weight="bold">Feature Importance</text><rect x="58.73" y="337.02" width="21.5" height="144.78" fill="#eea7a8"/><text x="69.48" y="493.3" text-anchor="middle" font-size="11.5"><tspan font-style="italic">T</tspan><tspan font-style="italic" font-size="8" dy="2">c</tspan></text><rect x="84.7" y="353.72" width="21.5" height="128.08" fill="#eea7a8"/><text x="95.45" y="493.3" text-anchor="middle" font-size="11.5"><tspan font-style="italic">V</tspan></text><rect x="110.68" y="427.3" width="21.5" height="54.5" fill="#eea7a8"/><text x="121.43" y="493.3" text-anchor="middle" font-size="11.5"><tspan font-style="italic">Q</tspan></text><rect x="136.66" y="460.15" width="21.5" height="21.65" fill="#fbcb9f"/><text x="147.41" y="493.3" text-anchor="middle" font-size="11.5"><tspan font-style="italic">f</tspan><tspan font-style="italic" font-size="8" dy="2">z</tspan></text><rect x="162.63" y="459.78" width="21.5" height="22.02" fill="#fbcb9f"/><text x="173.38" y="493.3" text-anchor="middle" font-size="11.5"><tspan font-style="italic">v</tspan><tspan font-style="italic" font-size="8" dy="2">c</tspan></text><rect x="188.61" y="461.62" width="21.5" height="20.18" fill="#fbcb9f"/><text x="199.36" y="493.3" text-anchor="middle" font-size="11.5"><tspan font-style="italic">a</tspan><tspan font-style="italic" font-size="8" dy="2">p</tspan></text><rect x="214.59" y="477.21" width="21.5" height="4.59" fill="#fbcb9f"/><text x="225.34" y="493.3" text-anchor="middle" font-size="11.5"><tspan font-style="italic">n</tspan><tspan font-style="italic" font-size="8" dy="2">p</tspan></text><rect x="240.57" y="468.04" width="21.5" height="13.76" fill="#fbcb9f"/><text x="251.32" y="493.3" text-anchor="middle" font-size="11.5"><tspan font-style="italic">r</tspan><tspan font-style="italic" font-size="8" dy="2">p</tspan></text><rect x="266.54" y="475.19" width="21.5" height="6.61" fill="#fbcb9f"/><text x="277.29" y="493.3" text-anchor="middle" font-size="11.5"><tspan font-style="italic">d</tspan><tspan font-style="italic" font-size="8" dy="2">p</tspan></text><rect x="292.52" y="466.94" width="21.5" height="14.86" fill="#fbcb9f"/><text x="303.27" y="493.3" text-anchor="middle" font-size="11.5"><tspan font-style="italic">x</tspan><tspan font-style="italic" font-size="8" dy="2">p</tspan></text><rect x="318.5" y="465.84" width="21.5" height="15.96" fill="#fbcb9f"/><text x="329.25" y="493.3" text-anchor="middle" font-size="11.5"><tspan font-style="italic">y</tspan><tspan font-style="italic" font-size="8" dy="2">p</tspan></text><rect x="344.47" y="469.87" width="21.5" height="11.93" fill="#fbcb9f"/><text x="355.22" y="493.3" text-anchor="middle" font-size="11.5"><tspan font-style="italic">α</tspan><tspan font-style="italic" font-size="8" dy="2">p</tspan></text><path fill="none" stroke="#000" stroke-width="1.5" d="M69.48 355.55V319.77M67.48 355.55H71.48M67.48 319.77H71.48M95.45 370.42V337.94M93.45 370.42H97.45M93.45 337.94H97.45M121.43 449.14V406.2M119.43 449.14H123.43M119.43 406.2H123.43M147.41 472.81V448.59M145.41 472.81H149.41M145.41 448.59H149.41M173.38 473.36V446.94M171.38 473.36H175.38M171.38 446.94H175.38M199.36 473.73V450.24M197.36 473.73H201.36M197.36 450.24H201.36M225.34 481.25V473.36M223.34 481.25H227.34M223.34 473.36H227.34M251.32 478.13V458.86M249.32 478.13H253.32M249.32 458.86H253.32M277.29 479.78V471.16M275.29 479.78H279.29M275.29 471.16H279.29M303.27 478.13V456.84M301.27 478.13H305.27M301.27 456.84H305.27M329.25 477.21V454.64M327.25 477.21H331.25M327.25 454.64H331.25M355.22 478.13V462.17M353.22 478.13H357.22M353.22 462.17H357.22"/><rect x="43.5" y="298.3" width="337.7" height="183.5" fill="none" stroke="#000" stroke-width="1.4"/><path fill="none" stroke="#000" stroke-width="0.8" d="M43.5 481.8H48.7M43.5 472.62H46.7M43.5 463.45H46.7M43.5 454.27H46.7M43.5 445.1H48.7M43.5 435.93H46.7M43.5 426.75H46.7M43.5 417.57H46.7M43.5 408.4H48.7M43.5 399.23H46.7M43.5 390.05H46.7M43.5 380.88H46.7M43.5 371.7H48.7M43.5 362.52H46.7M43.5 353.35H46.7M43.5 344.18H46.7M43.5 335H48.7M43.5 325.82H46.7M43.5 316.65H46.7M43.5 307.48H46.7M43.5 298.3H48.7M69.48 481.8V477.8M95.45 481.8V477.8M121.43 481.8V477.8M147.41 481.8V477.8M173.38 481.8V477.8M199.36 481.8V477.8M225.34 481.8V477.8M251.32 481.8V477.8M277.29 481.8V477.8M303.27 481.8V477.8M329.25 481.8V477.8M355.22 481.8V477.8"/><text transform="translate(40.6 485.9) scale(1.1 1.12)" text-anchor="end" font-size="10.8">0.0</text><text transform="translate(40.6 449.2) scale(1.1 1.12)" text-anchor="end" font-size="10.8">0.2</text><text transform="translate(40.6 412.5) scale(1.1 1.12)" text-anchor="end" font-size="10.8">0.4</text><text transform="translate(40.6 375.8) scale(1.1 1.12)" text-anchor="end" font-size="10.8">0.6</text><text transform="translate(40.6 339.1) scale(1.1 1.12)" text-anchor="end" font-size="10.8">0.8</text><text transform="translate(40.6 302.4) scale(1.1 1.12)" text-anchor="end" font-size="10.8">1.0</text><path fill="none" stroke="#000" stroke-width="1.2" d="M215.1 452V447.5H364.8V452M290 447.5V445.5"/><text x="290" y="441" text-anchor="middle" font-size="10.4">Workpiece Parameters</text><path fill="none" stroke="#000" stroke-width="1.2" d="M138.6 495.2V498.5H211.7V495.2M175.1 498.5V500.5"/><text x="175.1" y="509.5" text-anchor="middle" font-size="10.6">Cutting Parameters</text><rect x="414.3" y="138.9" width="132.4" height="206" rx="2" fill="#999"/><rect x="413" y="137.6" width="132.4" height="206" rx="2" fill="#fff" stroke="#d0d0d0" stroke-width="0.8"/><rect x="416.2" y="141.2" width="20.8" height="7.8" fill="#9fc3e1"/><text x="444.3" y="148.7" font-size="10.3" >Instantaneous Features</text><rect x="416.2" y="154.67" width="20.8" height="7.8" fill="#eba2a8"/><text x="444.3" y="162.17" font-size="10.3" >Cumulative Features</text><rect x="416.2" y="168.14" width="20.8" height="7.8" fill="#fcc89a"/><text x="444.3" y="175.64" font-size="10.3" >Parameters</text><text x="426.5" y="189.11" text-anchor="middle" font-size="10.3" ><tspan font-style="italic">T</tspan><tspan font-style="italic" font-size="7.4" dy="1.6">c</tspan></text><text x="444.3" y="189.11" font-size="10.3" >Total Cutting Time</text><text x="426.5" y="202.58" text-anchor="middle" font-size="10.3" ><tspan font-style="italic">V</tspan></text><text x="444.3" y="202.58" font-size="10.3" >Total Removed Volume</text><text x="426.5" y="216.05" text-anchor="middle" font-size="10.3" ><tspan font-style="italic">Q</tspan></text><text x="444.3" y="216.05" font-size="10.3" >Material Removal Rate</text><text x="426.5" y="229.52" text-anchor="middle" font-size="10.3" ><tspan font-style="italic">f</tspan><tspan font-style="italic" font-size="7.4" dy="1.6">z</tspan></text><text x="444.3" y="229.52" font-size="10.3" >Feed per Tooth</text><text x="426.5" y="242.99" text-anchor="middle" font-size="10.3" ><tspan font-style="italic">v</tspan><tspan font-style="italic" font-size="7.4" dy="1.6">c</tspan></text><text x="444.3" y="242.99" font-size="10.3" >Cutting Speed</text><text x="426.5" y="256.46" text-anchor="middle" font-size="10.3" ><tspan font-style="italic">a</tspan><tspan font-style="italic" font-size="7.4" dy="1.6">p</tspan></text><text x="444.3" y="256.46" font-size="10.3" >Depth of Cut</text><text x="426.5" y="269.93" text-anchor="middle" font-size="10.3" ><tspan font-style="italic">n</tspan><tspan font-style="italic" font-size="7.4" dy="1.6">p</tspan></text><text x="444.3" y="269.93" font-size="10.3" >No. of Corners</text><text x="426.5" y="283.4" text-anchor="middle" font-size="10.3" ><tspan font-style="italic">r</tspan><tspan font-style="italic" font-size="7.4" dy="1.6">p</tspan></text><text x="444.3" y="283.4" font-size="10.3" >Pocket Radius</text><text x="426.5" y="296.87" text-anchor="middle" font-size="10.3" ><tspan font-style="italic">d</tspan><tspan font-style="italic" font-size="7.4" dy="1.6">p</tspan></text><text x="444.3" y="296.87" font-size="10.3" >Pocket Depth</text><text x="426.5" y="310.34" text-anchor="middle" font-size="10.3" ><tspan font-style="italic">x</tspan><tspan font-style="italic" font-size="7.4" dy="1.6">p</tspan></text><text x="444.3" y="310.34" font-size="10.3" >Pocket X Coordinate</text><text x="426.5" y="323.81" text-anchor="middle" font-size="10.3" ><tspan font-style="italic">y</tspan><tspan font-style="italic" font-size="7.4" dy="1.6">p</tspan></text><text x="444.3" y="323.81" font-size="10.3" >Pocket Y Coordinate</text><text x="426.5" y="337.28" text-anchor="middle" font-size="10.3" ><tspan font-style="italic">α</tspan><tspan font-style="italic" font-size="7.4" dy="1.6">p</tspan></text><text x="444.3" y="337.28" font-size="10.3" >Rotation Angle</text>
</svg>
</body></html>
